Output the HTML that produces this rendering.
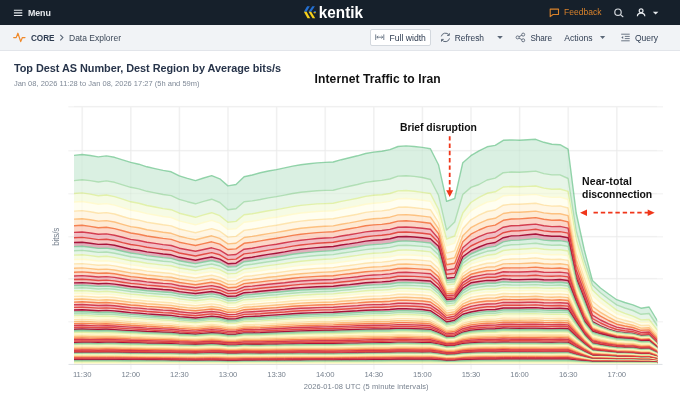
<!DOCTYPE html>
<html lang="en"><head><meta charset="utf-8"><title>Kentik Data Explorer</title>
<style>
*{box-sizing:border-box}
html,body{margin:0;padding:0}
body{width:680px;height:404px;overflow:hidden;background:#fff;font-family:"Liberation Sans",Arial,sans-serif;position:relative;color:#2a3648}
#nav{position:absolute;left:0;top:0;width:680px;height:24.5px;background:#16202b}
#bar{position:absolute;left:0;top:24.5px;width:680px;height:26px;background:#f1f3f6;border-bottom:1px solid #e2e5ea}
.t{position:absolute;white-space:nowrap;line-height:1}
svg{position:absolute;left:0;top:0}
#fw{position:absolute;left:370px;top:28.6px;width:60.6px;height:17.8px;background:#fff;border:1px solid #d3d8de;border-radius:2px}
</style></head><body>

<div id="nav"></div><div id="bar"></div><div id="fw"></div>
<svg width="680" height="404" viewBox="0 0 680 404" font-family="'Liberation Sans',Arial,sans-serif">
<text x="27.9" y="15.8" textLength="22.9" font-size="8.9" fill="#e6e9ed" font-weight="bold">Menu</text>
<text transform="translate(318.8,17.9) scale(0.905,1)" font-size="16.9" font-weight="bold" fill="#fff">kentik</text>
<text x="564" y="15.4" textLength="37.4" font-size="8.5" fill="#d9822b">Feedback</text>
<text x="31" y="40.6" textLength="23.5" font-size="8.2" fill="#2d3b50" font-weight="bold">CORE</text>
<text x="69" y="40.7" textLength="52.0" font-size="8.5" fill="#3c4858">Data Explorer</text>
<text x="389.4" y="40.9" textLength="36.5" font-size="8.6" fill="#2d3b50">Full width</text>
<text x="454.8" y="40.9" textLength="29.2" font-size="8.4" fill="#2d3b50">Refresh</text>
<text x="530.4" y="40.9" textLength="21.7" font-size="8.2" fill="#2d3b50">Share</text>
<text x="564.3" y="40.9" textLength="28.3" font-size="8.6" fill="#2d3b50">Actions</text>
<text x="635" y="40.9" textLength="23.0" font-size="8.5" fill="#2d3b50">Query</text>
<text x="13.9" y="71.8" textLength="267.1" font-size="10.9" fill="#27344a" font-weight="bold">Top Dest AS Number, Dest Region by Average bits/s</text>
<text x="13.9" y="85.8" textLength="185.6" font-size="7.5" fill="#7f8997">Jan 08, 2026 11:28 to Jan 08, 2026 17:27 (5h and 59m)</text>
<g stroke="#e6e9ed" stroke-width="1.1" fill="none"><path d="M13.9 10.2h8.4M13.9 12.85h8.4M13.9 15.5h8.4"/></g>
<g><path d="M303.9 11.8L307.1 6.2h2.7L306.6 11.8z" fill="#2470d2"/><path d="M308.6 11.8L312.3 6.2h2.6L311.2 11.8z" fill="#2470d2"/><path d="M303.9 11.8h2.7L310.2 18.2h-2.7z" fill="#f7d01a"/><path d="M308.6 11.8h2.6L315.2 18.2h-2.6z" fill="#f7d01a"/><path d="M313.2 12.3l1.3-1.2h1.3v1.2z" fill="#2470d2"/><path d="M313.2 12.3h2.6v.7l-1.2.6z" fill="#f7d01a"/></g>
<path d="M550.2 9.1h8.3v5.4h-5.5l-2.8 2.1z" fill="none" stroke="#d9822b" stroke-width="1.1" stroke-linejoin="round"/>
<g fill="none" stroke="#d5d9de" stroke-width="1.2"><circle cx="618" cy="12.2" r="3.2"/><path d="M620.4 14.6l2.5 2.1" stroke-linecap="round"/></g>
<g fill="none" stroke="#e6e9ed" stroke-width="1.2"><circle cx="641.1" cy="10.7" r="1.9"/><path d="M637.4 16.3c0-2.2 1.6-3.1 3.7-3.1s3.7 .9 3.7 3.1"/></g>
<path d="M652.8 11.7h5.6l-2.8 2.8z" fill="#e6e9ed"/>
<path d="M13.7 37.6h2.5l1.7-4.4 2.8 8.4 1.7-4h2.6" fill="none" stroke="#f0892a" stroke-width="1.2" stroke-linejoin="round" stroke-linecap="round"/>
<path d="M60.3 34.9l2.6 2.7-2.6 2.7" fill="none" stroke="#5c6878" stroke-width="1.1"/>
<g fill="none" stroke="#6a7686" stroke-width="0.9"><path d="M375.7 34.4v5.6M383.8 34.4v5.6M376.8 37.2h6"/><path d="M378.2 35.9l-1.4 1.3 1.4 1.3M381.4 35.9l1.4 1.3-1.4 1.3"/></g>
<g fill="none" stroke="#5c6878" stroke-width="1"><path d="M441.3 36.4a4.2 4.2 0 0 1 7.6-1.4"/><path d="M449.5 38.4a4.2 4.2 0 0 1-7.6 1.4"/><path d="M449.3 33.2v2.2h-2.2M441.5 41.6v-2.2h2.2"/></g>
<path d="M497.2 36h5.6l-2.8 3z" fill="#5c6878"/>
<g fill="none" stroke="#5c6878" stroke-width="0.9"><circle cx="523.2" cy="34.6" r="1.5"/><circle cx="517.6" cy="37.4" r="1.5"/><circle cx="523.2" cy="40.3" r="1.5"/><path d="M519 36.7l2.9-1.5M519 38.1l2.9 1.5"/></g>
<path d="M600 36h5.2l-2.6 3z" fill="#5c6878"/>
<g fill="none" stroke="#5c6878" stroke-width="0.9"><path d="M621.2 34.2h8.5M624.8 36.4h4.9M624.8 38.6h4.9M621.2 40.8h8.5"/></g><path d="M623.2 36.1v2.8l-1.9-1.4z" fill="#5c6878"/>
<g stroke="#f5f5f5" stroke-width="1.6">
<path d="M82.3 106.5v263"/>
<path d="M130.9 106.5v263"/>
<path d="M179.5 106.5v263"/>
<path d="M228.1 106.5v263"/>
<path d="M276.7 106.5v263"/>
<path d="M325.3 106.5v263"/>
<path d="M373.9 106.5v263"/>
<path d="M422.5 106.5v263"/>
<path d="M471.1 106.5v263"/>
<path d="M519.7 106.5v263"/>
<path d="M568.3 106.5v263"/>
<path d="M616.9 106.5v263"/>
<path d="M68.3 106.8H663"/>
<path d="M68.3 150.8H663"/>
<path d="M68.3 193.8H663"/>
<path d="M68.3 236.8H663"/>
<path d="M68.3 278.8H663"/>
<path d="M68.3 321.8H663"/>
</g>
<defs><clipPath id="cp"><rect x="74" y="100" width="583.3" height="264.3"/></clipPath></defs>
<g clip-path="url(#cp)"><g stroke-width="1.4" stroke-linejoin="round">
<polygon points="70,155.4 74,155.4 82.1,154.5 90.2,155.5 98.3,156.9 106.4,155.9 114.5,157.3 122.6,159.9 130.7,162.4 138.8,164.2 146.9,166.8 155,168.6 163.1,170.4 171.2,171.8 179.3,175.8 187.4,178.3 195.5,180.6 203.6,178 211.7,175.6 219.8,178.8 227.9,185.9 236,184.5 244.1,176.7 252.2,175 260.3,172.8 268.4,171 276.5,169.6 284.6,167.9 292.7,166.1 300.8,164.7 308.9,163.8 317,162.9 325.1,162.4 333.2,162 341.3,159.7 349.4,157.8 357.5,155.8 365.6,153.5 373.7,152.1 381.8,151.2 389.9,149.6 398,146.5 406.1,145.9 414.2,146.5 422.3,147.4 430.4,148.8 438.5,164.7 446.6,201.3 454.7,198.5 462.8,162.7 470.9,155.7 479,150.8 487.1,146.8 495.2,145.4 503.3,140.3 511.4,139.9 519.5,140.2 527.6,139.8 535.7,139.3 543.8,142.3 551.9,144.2 560,144.7 568.1,149.2 576.2,213 584.3,250 592.4,280.5 600.5,288 608.6,294 616.7,299.7 624.8,302.5 632.9,304.8 641,308.2 649.1,307 657.2,320.5 662,320.5 662,370 70,370" fill="#daf0e2" stroke="#7ccb98" stroke-opacity="0.82" stroke-width="1.40"/>
<polygon points="70,180.6 74,180.6 82.1,179.7 90.2,180.6 98.3,182 106.4,180.9 114.5,182.3 122.6,184.8 130.7,187.3 138.8,188.9 146.9,191.3 155,192.9 163.1,194.5 171.2,195.6 179.3,199.4 187.4,201.7 195.5,203.8 203.6,201.4 211.7,199.2 219.8,202.5 227.9,209.8 236,208.8 244.1,201.8 252.2,200.9 260.3,199.5 268.4,197.9 276.5,196.6 284.6,195.1 292.7,193.5 300.8,192.2 308.9,191.5 317,190.8 325.1,190.4 333.2,190.2 341.3,188.1 349.4,186.3 357.5,184.5 365.6,182.4 373.7,181.2 381.8,180.4 389.9,179 398,176.1 406.1,175.7 414.2,176.4 422.3,177.5 430.4,179.5 438.5,195.3 446.6,230.1 454.7,222 462.8,194.5 470.9,187.4 479,184.5 487.1,180 495.2,178.1 503.3,172.7 511.4,172 519.5,172.2 527.6,171.7 535.7,171.1 543.8,173.6 551.9,174.9 560,174.9 568.1,178.5 576.2,230.7 584.3,260 592.4,285 600.5,292.8 608.6,299 616.7,304.9 624.8,308 632.9,310.5 641,314.3 649.1,313.5 657.2,325.5 662,325.5 662,370 70,370" fill="#e7f5e8" stroke="#a0d8a4" stroke-opacity="0.74" stroke-width="1.40"/>
<polygon points="70,193.5 74,193.5 82.1,192.9 90.2,194.1 98.3,195.7 106.4,195 114.5,196.6 122.6,199.2 130.7,201.8 138.8,203.3 146.9,205.5 155,207 163.1,208.6 171.2,209.7 179.3,213.2 187.4,215.3 195.5,217.3 203.6,214.9 211.7,212.7 219.8,215.7 227.9,222.2 236,221.4 244.1,214.8 252.2,213.8 260.3,212.3 268.4,210.7 276.5,209.6 284.6,208.1 292.7,206.6 300.8,205.4 308.9,204.6 317,203.9 325.1,203.6 333.2,203.3 341.3,201.4 349.4,199.9 357.5,198.3 365.6,196.4 373.7,195.3 381.8,194.7 389.9,193.5 398,190.9 406.1,190.5 414.2,191.3 422.3,192.4 430.4,193.5 438.5,209.3 446.6,239 454.7,236 462.8,213 470.9,202.5 479,197.3 487.1,193.3 495.2,191.8 503.3,187 511.4,186.5 519.5,186.8 527.6,186.4 535.7,186 543.8,188.1 551.9,189.2 560,189 568.1,191.4 576.2,239.2 584.3,266.3 592.4,290 600.5,297.7 608.6,304 616.7,310.1 624.8,313.4 632.9,316.2 641,319.9 649.1,319.5 657.2,330 662,330 662,370 70,370" fill="#f6fbe4" stroke="#dff0a0" stroke-opacity="0.85" stroke-width="1.40"/>
<polygon points="70,202 74,202 82.1,201.5 90.2,202.7 98.3,204.2 106.4,203.6 114.5,205.1 122.6,207.6 130.7,210.1 138.8,211.5 146.9,213.6 155,215 163.1,216.5 171.2,217.5 179.3,220.9 187.4,222.9 195.5,224.8 203.6,222.5 211.7,220.4 219.8,223.2 227.9,229.4 236,228.7 244.1,222.3 252.2,221.3 260.3,219.9 268.4,218.3 276.5,217.2 284.6,215.7 292.7,214.2 300.8,213 308.9,212.3 317,211.5 325.1,211.1 333.2,210.8 341.3,209 349.4,207.5 357.5,206 365.6,204.2 373.7,203.2 381.8,202.6 389.9,201.4 398,198.9 406.1,198.5 414.2,199.3 422.3,200.3 430.4,201.4 438.5,215.7 446.6,245.8 454.7,243.2 462.8,220.6 470.9,210.9 479,206 487.1,202.1 495.2,200.6 503.3,195.8 511.4,195.1 519.5,195.3 527.6,194.9 535.7,194.4 543.8,196.4 551.9,197.4 560,197.2 568.1,199.5 576.2,246 584.3,272 592.4,295.5 600.5,302.6 608.6,308.4 616.7,313.8 624.8,316.7 632.9,319.2 641,322.6 649.1,322.2 657.2,332.3 662,332.3 662,370 70,370" fill="#fffef0" stroke="#fffacc" stroke-opacity="0.9" stroke-width="1.40"/>
<polygon points="70,211.1 74,211.1 82.1,210.6 90.2,211.7 98.3,213.2 106.4,212.6 114.5,214 122.6,216.5 130.7,218.8 138.8,220.1 146.9,222.2 155,223.5 163.1,224.8 171.2,225.9 179.3,229 187.4,230.9 195.5,232.7 203.6,230.6 211.7,228.6 219.8,231.2 227.9,237.1 236,236.4 244.1,230.4 252.2,229.3 260.3,227.9 268.4,226.4 276.5,225.2 284.6,223.8 292.7,222.3 300.8,221.1 308.9,220.3 317,219.6 325.1,219.1 333.2,218.8 341.3,217.1 349.4,215.7 357.5,214.2 365.6,212.4 373.7,211.4 381.8,210.9 389.9,209.7 398,207.3 406.1,207 414.2,207.7 422.3,208.6 430.4,209.7 438.5,222.5 446.6,253.1 454.7,250.8 462.8,228.7 470.9,219.8 479,215.1 487.1,211.5 495.2,210 503.3,205.2 511.4,204.2 519.5,204.3 527.6,203.8 535.7,203.2 543.8,205.1 551.9,206.1 560,205.9 568.1,208 576.2,253.1 584.3,278 592.4,301.3 600.5,307.8 608.6,313 616.7,317.8 624.8,320.3 632.9,322.4 641,325.5 649.1,325.2 657.2,334.8 662,334.8 662,370 70,370" fill="#fff6e4" stroke="#fee0a4" stroke-opacity="0.85" stroke-width="1.40"/>
<polygon points="70,219.1 74,219.1 82.1,218.7 90.2,219.8 98.3,221.1 106.4,220.6 114.5,222 122.6,224.3 130.7,226.6 138.8,227.8 146.9,229.7 155,231 163.1,232.3 171.2,233.3 179.3,236.2 187.4,238.1 195.5,239.7 203.6,237.7 211.7,235.8 219.8,238.3 227.9,243.9 236,243.2 244.1,237.5 252.2,236.4 260.3,235 268.4,233.6 276.5,232.4 284.6,231 292.7,229.5 300.8,228.3 308.9,227.5 317,226.7 325.1,226.3 333.2,225.9 341.3,224.2 349.4,222.9 357.5,221.4 365.6,219.8 373.7,218.8 381.8,218.3 389.9,217.2 398,214.9 406.1,214.6 414.2,215.2 422.3,216.1 430.4,217.1 438.5,228.6 446.6,259.5 454.7,257.6 462.8,235.8 470.9,227.7 479,223.3 487.1,219.8 495.2,218.3 503.3,213.5 511.4,212.3 519.5,212.3 527.6,211.7 535.7,211.1 543.8,212.9 551.9,213.8 560,213.7 568.1,215.6 576.2,259.5 584.3,283.4 592.4,306.5 600.5,312.4 608.6,317.1 616.7,321.3 624.8,323.4 632.9,325.2 641,328.1 649.1,327.7 657.2,337 662,337 662,370 70,370" fill="#feead4" stroke="#fdb870" stroke-opacity="0.85" stroke-width="1.40"/>
<polygon points="70,225.7 74,225.7 82.1,225.3 90.2,226.4 98.3,227.7 106.4,227.3 114.5,228.6 122.6,230.8 130.7,233 138.8,234.2 146.9,236 155,237.2 163.1,238.4 171.2,239.4 179.3,242.2 187.4,243.9 195.5,245.5 203.6,243.6 211.7,241.8 219.8,244.2 227.9,249.5 236,248.9 244.1,243.3 252.2,242.3 260.3,240.9 268.4,239.5 276.5,238.3 284.6,236.9 292.7,235.4 300.8,234.2 308.9,233.4 317,232.6 325.1,232.1 333.2,231.7 341.3,230.1 349.4,228.8 357.5,227.4 365.6,225.8 373.7,224.9 381.8,224.4 389.9,223.3 398,221.1 406.1,220.8 414.2,221.4 422.3,222.2 430.4,223.2 438.5,233.6 446.6,264.8 454.7,263.2 462.8,241.7 470.9,234.2 479,230 487.1,226.6 495.2,225.1 503.3,220.3 511.4,219 519.5,218.9 527.6,218.3 535.7,217.6 543.8,219.3 551.9,220.2 560,220 568.1,221.9 576.2,264.7 584.3,287.8 592.4,310.8 600.5,316.2 608.6,320.5 616.7,324.2 624.8,326 632.9,327.5 641,330.3 649.1,329.9 657.2,338.8 662,338.8 662,370 70,370" fill="#fcd6c8" stroke="#f47846" stroke-opacity="0.92" stroke-width="1.40"/>
<polygon points="70,232.4 74,232.4 82.1,232 90.2,233 98.3,234.3 106.4,233.9 114.5,235.2 122.6,237.3 130.7,239.4 138.8,240.5 146.9,242.3 155,243.4 163.1,244.6 171.2,245.5 179.3,248.2 187.4,249.8 195.5,251.3 203.6,249.5 211.7,247.8 219.8,250.1 227.9,255.1 236,254.5 244.1,249.2 252.2,248.2 260.3,246.8 268.4,245.4 276.5,244.2 284.6,242.8 292.7,241.4 300.8,240.2 308.9,239.4 317,238.5 325.1,238 333.2,237.6 341.3,236 349.4,234.8 357.5,233.4 365.6,231.9 373.7,231 381.8,230.5 389.9,229.4 398,227.3 406.1,227 414.2,227.5 422.3,228.3 430.4,229.3 438.5,238.6 446.6,270.1 454.7,268.8 462.8,247.7 470.9,240.7 479,236.7 487.1,233.4 495.2,232 503.3,227.2 511.4,225.7 519.5,225.5 527.6,224.8 535.7,224.1 543.8,225.7 551.9,226.6 560,226.4 568.1,228.1 576.2,270 584.3,292.2 592.4,315.1 600.5,320 608.6,323.9 616.7,327.1 624.8,328.6 632.9,329.8 641,332.4 649.1,332 657.2,340.6 662,340.6 662,370 70,370" fill="#f1bfc5" stroke="#d2364a" stroke-opacity="0.95" stroke-width="1.40"/>
<polygon points="70,237.7 74,237.7 82.1,237.4 90.2,238.4 98.3,239.6 106.4,239.2 114.5,240.5 122.6,242.6 130.7,244.5 138.8,245.6 146.9,247.3 155,248.4 163.1,249.5 171.2,250.4 179.3,253 187.4,254.5 195.5,256 203.6,254.2 211.7,252.6 219.8,254.8 227.9,259.6 236,259.1 244.1,253.9 252.2,252.9 260.3,251.5 268.4,250.1 276.5,248.9 284.6,247.6 292.7,246.1 300.8,245 308.9,244.1 317,243.3 325.1,242.7 333.2,242.3 341.3,240.8 349.4,239.5 357.5,238.2 365.6,236.7 373.7,235.9 381.8,235.3 389.9,234.3 398,232.3 406.1,232 414.2,232.5 422.3,233.2 430.4,234.3 438.5,242.6 446.6,274.3 454.7,273.3 462.8,252.4 470.9,246 479,242.1 487.1,238.9 495.2,237.5 503.3,232.7 511.4,231 519.5,230.8 527.6,230.1 535.7,229.3 543.8,230.9 551.9,231.7 560,231.6 568.1,233.1 576.2,274.2 584.3,295.8 592.4,318.5 600.5,323 608.6,326.6 616.7,329.5 624.8,330.7 632.9,331.7 641,334.1 649.1,333.7 657.2,342 662,342 662,370 70,370" fill="#f6c7c5" stroke="#e2443e" stroke-opacity="0.95" stroke-width="1.40"/>
<polygon points="70,242.5 74,242.5 82.1,242.2 90.2,243.2 98.3,244.4 106.4,244.1 114.5,245.3 122.6,247.3 130.7,249.2 138.8,250.3 146.9,251.9 155,252.9 163.1,254 171.2,254.8 179.3,257.3 187.4,258.8 195.5,260.2 203.6,258.5 211.7,257 219.8,259.1 227.9,263.7 236,263.2 244.1,258.2 252.2,257.2 260.3,255.8 268.4,254.4 276.5,253.2 284.6,251.9 292.7,250.4 300.8,249.3 308.9,248.4 317,247.6 325.1,247 333.2,246.5 341.3,245 349.4,243.9 357.5,242.6 365.6,241.1 373.7,240.3 381.8,239.8 389.9,238.8 398,236.8 406.1,236.5 414.2,237 422.3,237.7 430.4,238.7 438.5,246.2 446.6,278.2 454.7,277.4 462.8,256.7 470.9,250.7 479,247 487.1,243.9 495.2,242.5 503.3,237.7 511.4,235.9 519.5,235.6 527.6,234.8 535.7,234 543.8,235.5 551.9,236.3 560,236.2 568.1,237.7 576.2,278 584.3,299 592.4,321.6 600.5,325.8 608.6,329.1 616.7,331.6 624.8,332.6 632.9,333.4 641,335.6 649.1,335.3 657.2,343.4 662,343.4 662,370 70,370" fill="#e1afbc" stroke="#a8143a" stroke-opacity="1" stroke-width="1.40"/>
<polygon points="70,246.6 74,246.6 82.1,246.3 90.2,247.3 98.3,248.4 106.4,248.1 114.5,249.3 122.6,251.2 130.7,253 138.8,254.1 146.9,255.6 155,256.6 163.1,257.6 171.2,258.4 179.3,260.8 187.4,262.3 195.5,263.6 203.6,262 211.7,260.5 219.8,262.5 227.9,267 236,266.6 244.1,261.7 252.2,260.8 260.3,259.4 268.4,258.1 276.5,257 284.6,255.7 292.7,254.3 300.8,253.2 308.9,252.4 317,251.6 325.1,251.1 333.2,250.6 341.3,249.2 349.4,248 357.5,246.8 365.6,245.4 373.7,244.6 381.8,244.1 389.9,243.1 398,241.2 406.1,240.9 414.2,241.4 422.3,242.1 430.4,243 438.5,250.5 446.6,280.4 454.7,279.6 462.8,259.9 470.9,254 479,250.5 487.1,247.6 495.2,246.4 503.3,241.9 511.4,240.4 519.5,240.1 527.6,239.4 535.7,238.6 543.8,240.1 551.9,240.8 560,240.6 568.1,242.1 576.2,280.5 584.3,301.2 592.4,322.6 600.5,326.6 608.6,329.8 616.7,332.2 624.8,333.2 632.9,334 641,336.2 649.1,335.8 657.2,343.8 662,343.8 662,370 70,370" fill="#daf0e2" stroke="#7ccb98" stroke-opacity="0.82" stroke-width="1.40"/>
<polygon points="70,250.7 74,250.7 82.1,250.4 90.2,251.3 98.3,252.4 106.4,252 114.5,253.2 122.6,255 130.7,256.8 138.8,257.8 146.9,259.2 155,260.2 163.1,261.2 171.2,261.9 179.3,264.3 187.4,265.7 195.5,267 203.6,265.4 211.7,264 219.8,266 227.9,270.3 236,269.9 244.1,265.2 252.2,264.3 260.3,263 268.4,261.7 276.5,260.7 284.6,259.4 292.7,258.1 300.8,257.1 308.9,256.3 317,255.5 325.1,255 333.2,254.6 341.3,253.2 349.4,252.1 357.5,250.9 365.6,249.6 373.7,248.8 381.8,248.3 389.9,247.4 398,245.5 406.1,245.3 414.2,245.7 422.3,246.4 430.4,247.3 438.5,254.7 446.6,282.5 454.7,281.7 462.8,263.1 470.9,257.2 479,254 487.1,251.3 495.2,250.2 503.3,246 511.4,244.8 519.5,244.5 527.6,243.9 535.7,243.2 543.8,244.5 551.9,245.2 560,245 568.1,246.4 576.2,282.9 584.3,303.5 592.4,323.6 600.5,327.4 608.6,330.5 616.7,332.8 624.8,333.8 632.9,334.5 641,336.7 649.1,336.4 657.2,344.2 662,344.2 662,370 70,370" fill="#e7f5e8" stroke="#a0d8a4" stroke-opacity="0.74" stroke-width="1.40"/>
<polygon points="70,255.1 74,255.1 82.1,254.8 90.2,255.6 98.3,256.7 106.4,256.3 114.5,257.4 122.6,259.1 130.7,260.8 138.8,261.8 146.9,263.2 155,264.1 163.1,265.1 171.2,265.8 179.3,268 187.4,269.3 195.5,270.6 203.6,269.1 211.7,267.7 219.8,269.6 227.9,273.9 236,273.4 244.1,269 252.2,268.1 260.3,266.9 268.4,265.6 276.5,264.6 284.6,263.5 292.7,262.2 300.8,261.2 308.9,260.5 317,259.8 325.1,259.3 333.2,258.9 341.3,257.6 349.4,256.5 357.5,255.4 365.6,254.1 373.7,253.3 381.8,252.9 389.9,252 398,250.2 406.1,249.9 414.2,250.4 422.3,251 430.4,251.9 438.5,259.2 446.6,284.8 454.7,284 462.8,266.5 470.9,260.7 479,257.7 487.1,255.3 495.2,254.3 503.3,250.5 511.4,249.5 519.5,249.3 527.6,248.7 535.7,248.1 543.8,249.3 551.9,249.9 560,249.7 568.1,251 576.2,285.5 584.3,305.9 592.4,324.6 600.5,328.3 608.6,331.2 616.7,333.5 624.8,334.4 632.9,335.1 641,337.3 649.1,337 657.2,344.6 662,344.6 662,370 70,370" fill="#f6fbe4" stroke="#dff0a0" stroke-opacity="0.85" stroke-width="1.40"/>
<polygon points="70,259.6 74,259.6 82.1,259.2 90.2,260 98.3,261 106.4,260.7 114.5,261.7 122.6,263.3 130.7,264.9 138.8,265.8 146.9,267.2 155,268.1 163.1,269 171.2,269.7 179.3,271.8 187.4,273.1 195.5,274.3 203.6,272.8 211.7,271.6 219.8,273.4 227.9,277.5 236,277 244.1,272.8 252.2,271.9 260.3,270.8 268.4,269.6 276.5,268.7 284.6,267.6 292.7,266.4 300.8,265.4 308.9,264.8 317,264.1 325.1,263.7 333.2,263.3 341.3,262.1 349.4,261 357.5,260 365.6,258.7 373.7,258 381.8,257.5 389.9,256.7 398,255 406.1,254.7 414.2,255.2 422.3,255.8 430.4,256.6 438.5,263.8 446.6,287.2 454.7,286.4 462.8,269.9 470.9,264.2 479,261.6 487.1,259.3 495.2,258.5 503.3,255.1 511.4,254.3 519.5,254.2 527.6,253.6 535.7,253 543.8,254.2 551.9,254.7 560,254.5 568.1,255.8 576.2,288.1 584.3,308.3 592.4,325.7 600.5,329.2 608.6,331.9 616.7,334.2 624.8,335.1 632.9,335.8 641,337.9 649.1,337.6 657.2,345.1 662,345.1 662,370 70,370" fill="#fffef0" stroke="#fffacc" stroke-opacity="0.9" stroke-width="1.40"/>
<polygon points="70,263.9 74,263.9 82.1,263.6 90.2,264.4 98.3,265.3 106.4,264.9 114.5,265.9 122.6,267.5 130.7,269 138.8,269.8 146.9,271.1 155,272 163.1,272.8 171.2,273.5 179.3,275.5 187.4,276.7 195.5,277.9 203.6,276.5 211.7,275.3 219.8,277.1 227.9,281 236,280.6 244.1,276.5 252.2,275.7 260.3,274.6 268.4,273.5 276.5,272.7 284.6,271.6 292.7,270.5 300.8,269.6 308.9,269 317,268.4 325.1,268 333.2,267.6 341.3,266.4 349.4,265.5 357.5,264.4 365.6,263.2 373.7,262.5 381.8,262.1 389.9,261.3 398,259.7 406.1,259.4 414.2,259.8 422.3,260.4 430.4,261.1 438.5,268.4 446.6,289.5 454.7,288.7 462.8,273.3 470.9,267.7 479,265.3 487.1,263.3 495.2,262.7 503.3,259.6 511.4,259 519.5,258.9 527.6,258.5 535.7,257.9 543.8,259 551.9,259.5 560,259.2 568.1,260.4 576.2,290.7 584.3,310.8 592.4,326.7 600.5,330 608.6,332.7 616.7,334.8 624.8,335.7 632.9,336.4 641,338.5 649.1,338.2 657.2,345.5 662,345.5 662,370 70,370" fill="#fff6e4" stroke="#fee0a4" stroke-opacity="0.85" stroke-width="1.40"/>
<polygon points="70,268.2 74,268.2 82.1,267.9 90.2,268.6 98.3,269.5 106.4,269.1 114.5,270 122.6,271.5 130.7,272.9 138.8,273.7 146.9,275 155,275.8 163.1,276.6 171.2,277.2 179.3,279.1 187.4,280.3 195.5,281.4 203.6,280.1 211.7,278.9 219.8,280.7 227.9,284.4 236,284.1 244.1,280.2 252.2,279.4 260.3,278.4 268.4,277.3 276.5,276.5 284.6,275.5 292.7,274.5 300.8,273.7 308.9,273.1 317,272.5 325.1,272.1 333.2,271.8 341.3,270.7 349.4,269.7 357.5,268.8 365.6,267.6 373.7,267 381.8,266.6 389.9,265.8 398,264.2 406.1,264 414.2,264.4 422.3,264.9 430.4,265.6 438.5,272.8 446.6,291.8 454.7,291 462.8,276.6 470.9,271.1 479,268.9 487.1,267.1 495.2,266.7 503.3,263.9 511.4,263.6 519.5,263.6 527.6,263.2 535.7,262.7 543.8,263.7 551.9,264.1 560,263.7 568.1,264.9 576.2,293.2 584.3,313.1 592.4,327.8 600.5,330.9 608.6,333.4 616.7,335.5 624.8,336.3 632.9,337 641,339 649.1,338.8 657.2,346 662,346 662,370 70,370" fill="#feead4" stroke="#fdb870" stroke-opacity="0.85" stroke-width="1.40"/>
<polygon points="70,272.2 74,272.2 82.1,271.9 90.2,272.5 98.3,273.3 106.4,273 114.5,273.8 122.6,275.2 130.7,276.6 138.8,277.4 146.9,278.5 155,279.3 163.1,280.1 171.2,280.7 179.3,282.5 187.4,283.6 195.5,284.7 203.6,283.5 211.7,282.3 219.8,284 227.9,287.7 236,287.3 244.1,283.6 252.2,282.8 260.3,281.9 268.4,280.9 276.5,280.1 284.6,279.2 292.7,278.2 300.8,277.4 308.9,276.9 317,276.4 325.1,276 333.2,275.7 341.3,274.6 349.4,273.8 357.5,272.8 365.6,271.7 373.7,271.1 381.8,270.7 389.9,270 398,268.5 406.1,268.2 414.2,268.6 422.3,269.1 430.4,269.8 438.5,276.9 446.6,293.8 454.7,293 462.8,279.7 470.9,274.3 479,272.3 487.1,270.7 495.2,270.4 503.3,268 511.4,267.9 519.5,267.9 527.6,267.6 535.7,267.1 543.8,268 551.9,268.4 560,268 568.1,269.1 576.2,295.6 584.3,315.3 592.4,328.7 600.5,331.7 608.6,334 616.7,336.1 624.8,336.9 632.9,337.5 641,339.6 649.1,339.3 657.2,346.4 662,346.4 662,370 70,370" fill="#fcd6c8" stroke="#f47846" stroke-opacity="0.92" stroke-width="1.40"/>
<polygon points="70,276 74,276 82.1,275.6 90.2,276.2 98.3,277 106.4,276.6 114.5,277.4 122.6,278.8 130.7,280.1 138.8,280.8 146.9,281.9 155,282.7 163.1,283.4 171.2,283.9 179.3,285.7 187.4,286.8 195.5,287.8 203.6,286.6 211.7,285.6 219.8,287.2 227.9,290.7 236,290.4 244.1,286.8 252.2,286.1 260.3,285.2 268.4,284.3 276.5,283.5 284.6,282.7 292.7,281.7 300.8,281 308.9,280.5 317,280 325.1,279.7 333.2,279.5 341.3,278.4 349.4,277.6 357.5,276.7 365.6,275.6 373.7,275 381.8,274.6 389.9,273.9 398,272.5 406.1,272.3 414.2,272.6 422.3,273.1 430.4,273.7 438.5,280.8 446.6,295.8 454.7,295 462.8,282.6 470.9,277.3 479,275.6 487.1,274.1 495.2,274 503.3,271.8 511.4,272 519.5,272 527.6,271.7 535.7,271.3 543.8,272.2 551.9,272.4 560,272.1 568.1,273.1 576.2,297.8 584.3,317.4 592.4,329.6 600.5,332.4 608.6,334.7 616.7,336.7 624.8,337.4 632.9,338 641,340.1 649.1,339.8 657.2,346.7 662,346.7 662,370 70,370" fill="#f1bfc5" stroke="#d2364a" stroke-opacity="0.95" stroke-width="1.40"/>
<polygon points="70,279.5 74,279.5 82.1,279.2 90.2,279.8 98.3,280.5 106.4,280.1 114.5,280.9 122.6,282.2 130.7,283.4 138.8,284.1 146.9,285.1 155,285.8 163.1,286.5 171.2,287.1 179.3,288.8 187.4,289.8 195.5,290.7 203.6,289.6 211.7,288.6 219.8,290.2 227.9,293.6 236,293.3 244.1,289.8 252.2,289.2 260.3,288.3 268.4,287.5 276.5,286.8 284.6,286 292.7,285.1 300.8,284.4 308.9,283.9 317,283.5 325.1,283.2 333.2,283 341.3,282 349.4,281.2 357.5,280.3 365.6,279.3 373.7,278.7 381.8,278.4 389.9,277.7 398,276.3 406.1,276.1 414.2,276.4 422.3,276.9 430.4,277.5 438.5,284.5 446.6,297.7 454.7,296.9 462.8,285.4 470.9,280.1 479,278.6 487.1,277.3 495.2,277.3 503.3,275.5 511.4,275.9 519.5,275.9 527.6,275.7 535.7,275.3 543.8,276.1 551.9,276.3 560,275.9 568.1,276.9 576.2,299.9 584.3,319.3 592.4,330.5 600.5,333.1 608.6,335.3 616.7,337.2 624.8,338 632.9,338.5 641,340.5 649.1,340.3 657.2,347.1 662,347.1 662,370 70,370" fill="#f6c7c5" stroke="#e2443e" stroke-opacity="0.95" stroke-width="1.40"/>
<polygon points="70,282.9 74,282.9 82.1,282.6 90.2,283.1 98.3,283.8 106.4,283.4 114.5,284.1 122.6,285.3 130.7,286.5 138.8,287.2 146.9,288.2 155,288.8 163.1,289.5 171.2,290 179.3,291.6 187.4,292.6 195.5,293.5 203.6,292.5 211.7,291.5 219.8,293 227.9,296.3 236,296 244.1,292.7 252.2,292.1 260.3,291.3 268.4,290.5 276.5,289.8 284.6,289.1 292.7,288.2 300.8,287.6 308.9,287.2 317,286.7 325.1,286.5 333.2,286.3 341.3,285.3 349.4,284.6 357.5,283.7 365.6,282.8 373.7,282.2 381.8,281.9 389.9,281.2 398,279.9 406.1,279.7 414.2,280 422.3,280.5 430.4,281 438.5,288 446.6,299.5 454.7,298.7 462.8,288 470.9,282.8 479,281.5 487.1,280.4 495.2,280.5 503.3,278.9 511.4,279.5 519.5,279.6 527.6,279.4 535.7,279.1 543.8,279.8 551.9,279.9 560,279.5 568.1,280.5 576.2,301.9 584.3,321.2 592.4,331.3 600.5,333.8 608.6,335.8 616.7,337.7 624.8,338.4 632.9,339 641,341 649.1,340.8 657.2,347.4 662,347.4 662,370 70,370" fill="#e1afbc" stroke="#a8143a" stroke-opacity="1" stroke-width="1.40"/>
<polygon points="70,285.6 74,285.6 82.1,285.2 90.2,285.7 98.3,286.4 106.4,286.1 114.5,286.7 122.6,287.9 130.7,289.1 138.8,289.7 146.9,290.7 155,291.4 163.1,292 171.2,292.5 179.3,294.1 187.4,295 195.5,295.9 203.6,294.9 211.7,293.9 219.8,295.4 227.9,298.5 236,298.2 244.1,295.1 252.2,294.5 260.3,293.7 268.4,292.9 276.5,292.3 284.6,291.5 292.7,290.7 300.8,290.1 308.9,289.7 317,289.3 325.1,289 333.2,288.8 341.3,287.9 349.4,287.2 357.5,286.4 365.6,285.4 373.7,284.9 381.8,284.6 389.9,284 398,282.7 406.1,282.5 414.2,282.9 422.3,283.3 430.4,283.9 438.5,290.7 446.6,301.7 454.7,300.8 462.8,290.6 470.9,285.7 479,284.3 487.1,283.3 495.2,283.3 503.3,281.8 511.4,282.3 519.5,282.4 527.6,282.2 535.7,281.9 543.8,282.5 551.9,282.7 560,282.3 568.1,283.3 576.2,303.9 584.3,322.5 592.4,332.4 600.5,334.9 608.6,336.9 616.7,338.7 624.8,339.3 632.9,339.8 641,341.7 649.1,341.6 657.2,348 662,348 662,370 70,370" fill="#daf0e2" stroke="#7ccb98" stroke-opacity="0.82" stroke-width="1.40"/>
<polygon points="70,288.1 74,288.1 82.1,287.8 90.2,288.3 98.3,289 106.4,288.6 114.5,289.3 122.6,290.4 130.7,291.5 138.8,292.2 146.9,293.1 155,293.8 163.1,294.4 171.2,294.9 179.3,296.4 187.4,297.4 195.5,298.2 203.6,297.2 211.7,296.3 219.8,297.7 227.9,300.7 236,300.4 244.1,297.3 252.2,296.8 260.3,296.1 268.4,295.3 276.5,294.7 284.6,293.9 292.7,293.2 300.8,292.5 308.9,292.1 317,291.7 325.1,291.5 333.2,291.3 341.3,290.4 349.4,289.7 357.5,288.9 365.6,288.1 373.7,287.6 381.8,287.3 389.9,286.7 398,285.5 406.1,285.3 414.2,285.6 422.3,286.1 430.4,286.7 438.5,293.4 446.6,303.8 454.7,302.9 462.8,293.1 470.9,288.4 479,287.1 487.1,286 495.2,286.1 503.3,284.6 511.4,285 519.5,285.1 527.6,284.9 535.7,284.6 543.8,285.2 551.9,285.4 560,285 568.1,286 576.2,305.8 584.3,323.7 592.4,333.6 600.5,335.9 608.6,337.8 616.7,339.6 624.8,340.2 632.9,340.7 641,342.5 649.1,342.3 657.2,348.5 662,348.5 662,370 70,370" fill="#e7f5e8" stroke="#a0d8a4" stroke-opacity="0.74" stroke-width="1.40"/>
<polygon points="70,290.8 74,290.8 82.1,290.6 90.2,291 98.3,291.7 106.4,291.3 114.5,292 122.6,293.1 130.7,294.1 138.8,294.8 146.9,295.7 155,296.3 163.1,297 171.2,297.4 179.3,298.9 187.4,299.9 195.5,300.7 203.6,299.7 211.7,298.8 219.8,300.1 227.9,303 236,302.7 244.1,299.7 252.2,299.2 260.3,298.5 268.4,297.8 276.5,297.2 284.6,296.5 292.7,295.7 300.8,295.1 308.9,294.7 317,294.3 325.1,294.1 333.2,293.9 341.3,293 349.4,292.4 357.5,291.6 365.6,290.8 373.7,290.3 381.8,290.1 389.9,289.5 398,288.3 406.1,288.2 414.2,288.5 422.3,289 430.4,289.7 438.5,296.2 446.6,306.1 454.7,305 462.8,295.7 470.9,291.4 479,290 487.1,288.9 495.2,289 503.3,287.5 511.4,287.9 519.5,287.9 527.6,287.7 535.7,287.5 543.8,288.1 551.9,288.3 560,287.9 568.1,288.8 576.2,307.8 584.3,325 592.4,334.7 600.5,337 608.6,338.9 616.7,340.5 624.8,341.1 632.9,341.5 641,343.3 649.1,343.1 657.2,349 662,349 662,370 70,370" fill="#f6fbe4" stroke="#dff0a0" stroke-opacity="0.85" stroke-width="1.40"/>
<polygon points="70,293.6 74,293.6 82.1,293.3 90.2,293.8 98.3,294.4 106.4,294.1 114.5,294.7 122.6,295.8 130.7,296.8 138.8,297.4 146.9,298.3 155,299 163.1,299.6 171.2,300 179.3,301.5 187.4,302.4 195.5,303.2 203.6,302.2 211.7,301.3 219.8,302.5 227.9,305.3 236,305 244.1,302.2 252.2,301.7 260.3,301.1 268.4,300.3 276.5,299.7 284.6,299.1 292.7,298.3 300.8,297.7 308.9,297.3 317,297 325.1,296.7 333.2,296.5 341.3,295.7 349.4,295.1 357.5,294.4 365.6,293.6 373.7,293.2 381.8,292.9 389.9,292.4 398,291.3 406.1,291.2 414.2,291.5 422.3,292 430.4,292.7 438.5,299.1 446.6,308.4 454.7,307.2 462.8,298.3 470.9,294.3 479,293 487.1,291.9 495.2,292 503.3,290.4 511.4,290.8 519.5,290.8 527.6,290.6 535.7,290.4 543.8,291 551.9,291.2 560,290.8 568.1,291.7 576.2,309.8 584.3,326.3 592.4,335.9 600.5,338.2 608.6,340 616.7,341.5 624.8,342 632.9,342.4 641,344.1 649.1,343.9 657.2,349.6 662,349.6 662,370 70,370" fill="#fffef0" stroke="#fffacc" stroke-opacity="0.9" stroke-width="1.40"/>
<polygon points="70,296.4 74,296.4 82.1,296.2 90.2,296.6 98.3,297.2 106.4,296.9 114.5,297.5 122.6,298.6 130.7,299.6 138.8,300.2 146.9,301 155,301.6 163.1,302.2 171.2,302.7 179.3,304.1 187.4,305 195.5,305.8 203.6,304.8 211.7,303.9 219.8,305 227.9,307.6 236,307.4 244.1,304.7 252.2,304.3 260.3,303.6 268.4,302.9 276.5,302.4 284.6,301.7 292.7,301 300.8,300.4 308.9,300.1 317,299.7 325.1,299.4 333.2,299.2 341.3,298.5 349.4,297.9 357.5,297.2 365.6,296.5 373.7,296.1 381.8,295.9 389.9,295.4 398,294.3 406.1,294.2 414.2,294.5 422.3,295 430.4,295.9 438.5,302 446.6,310.8 454.7,309.5 462.8,301.1 470.9,297.4 479,296 487.1,295 495.2,295 503.3,293.5 511.4,293.8 519.5,293.8 527.6,293.6 535.7,293.4 543.8,294 551.9,294.2 560,293.9 568.1,294.6 576.2,312 584.3,327.7 592.4,337.2 600.5,339.3 608.6,341.1 616.7,342.5 624.8,343 632.9,343.3 641,345 649.1,344.8 657.2,350.1 662,350.1 662,370 70,370" fill="#fff6e4" stroke="#fee0a4" stroke-opacity="0.85" stroke-width="1.40"/>
<polygon points="70,299.3 74,299.3 82.1,299 90.2,299.5 98.3,300.1 106.4,299.8 114.5,300.3 122.6,301.3 130.7,302.3 138.8,302.9 146.9,303.7 155,304.3 163.1,304.9 171.2,305.4 179.3,306.7 187.4,307.6 195.5,308.3 203.6,307.4 211.7,306.5 219.8,307.6 227.9,310 236,309.8 244.1,307.2 252.2,306.8 260.3,306.2 268.4,305.6 276.5,305 284.6,304.4 292.7,303.7 300.8,303.1 308.9,302.8 317,302.4 325.1,302.2 333.2,302 341.3,301.3 349.4,300.7 357.5,300.1 365.6,299.4 373.7,299 381.8,298.8 389.9,298.3 398,297.4 406.1,297.3 414.2,297.6 422.3,298 430.4,299 438.5,304.9 446.6,313.1 454.7,311.8 462.8,303.9 470.9,300.5 479,299 487.1,298.1 495.2,298 503.3,296.5 511.4,296.7 519.5,296.8 527.6,296.6 535.7,296.3 543.8,296.9 551.9,297.2 560,296.9 568.1,297.6 576.2,314.1 584.3,329.1 592.4,338.4 600.5,340.5 608.6,342.1 616.7,343.5 624.8,343.9 632.9,344.3 641,345.8 649.1,345.6 657.2,350.7 662,350.7 662,370 70,370" fill="#feead4" stroke="#fdb870" stroke-opacity="0.85" stroke-width="1.40"/>
<polygon points="70,302.1 74,302.1 82.1,301.8 90.2,302.2 98.3,302.8 106.4,302.5 114.5,303.1 122.6,304 130.7,305 138.8,305.5 146.9,306.4 155,306.9 163.1,307.5 171.2,308 179.3,309.3 187.4,310.1 195.5,310.8 203.6,309.9 211.7,309 219.8,310 227.9,312.3 236,312.1 244.1,309.7 252.2,309.3 260.3,308.8 268.4,308.1 276.5,307.6 284.6,306.9 292.7,306.3 300.8,305.7 308.9,305.4 317,305 325.1,304.8 333.2,304.6 341.3,303.9 349.4,303.4 357.5,302.9 365.6,302.2 373.7,301.8 381.8,301.7 389.9,301.2 398,300.3 406.1,300.2 414.2,300.6 422.3,301 430.4,302 438.5,307.8 446.6,315.4 454.7,314 462.8,306.5 470.9,303.4 479,302 487.1,301 495.2,301 503.3,299.5 511.4,299.6 519.5,299.7 527.6,299.5 535.7,299.2 543.8,299.8 551.9,300.1 560,299.8 568.1,300.5 576.2,316.1 584.3,330.4 592.4,339.6 600.5,341.6 608.6,343.2 616.7,344.5 624.8,344.9 632.9,345.1 641,346.6 649.1,346.4 657.2,351.2 662,351.2 662,370 70,370" fill="#fcd6c8" stroke="#f47846" stroke-opacity="0.92" stroke-width="1.40"/>
<polygon points="70,304.8 74,304.8 82.1,304.5 90.2,305 98.3,305.5 106.4,305.2 114.5,305.8 122.6,306.7 130.7,307.6 138.8,308.1 146.9,308.9 155,309.5 163.1,310.1 171.2,310.5 179.3,311.8 187.4,312.6 195.5,313.3 203.6,312.3 211.7,311.5 219.8,312.4 227.9,314.6 236,314.4 244.1,312.1 252.2,311.7 260.3,311.2 268.4,310.6 276.5,310.1 284.6,309.5 292.7,308.8 300.8,308.3 308.9,308 317,307.6 325.1,307.4 333.2,307.2 341.3,306.6 349.4,306.1 357.5,305.6 365.6,304.9 373.7,304.6 381.8,304.5 389.9,304.1 398,303.2 406.1,303.1 414.2,303.5 422.3,303.9 430.4,305 438.5,310.6 446.6,317.7 454.7,316.1 462.8,309.1 470.9,306.4 479,304.9 487.1,304 495.2,303.9 503.3,302.4 511.4,302.5 519.5,302.5 527.6,302.3 535.7,302.1 543.8,302.7 551.9,302.9 560,302.7 568.1,303.3 576.2,318.1 584.3,331.7 592.4,340.8 600.5,342.7 608.6,344.3 616.7,345.4 624.8,345.8 632.9,346 641,347.4 649.1,347.2 657.2,351.8 662,351.8 662,370 70,370" fill="#f1bfc5" stroke="#d2364a" stroke-opacity="0.95" stroke-width="1.40"/>
<polygon points="70,307.4 74,307.4 82.1,307.2 90.2,307.6 98.3,308.1 106.4,307.9 114.5,308.4 122.6,309.3 130.7,310.1 138.8,310.7 146.9,311.5 155,312 163.1,312.6 171.2,313 179.3,314.2 187.4,315 195.5,315.7 203.6,314.7 211.7,313.9 219.8,314.8 227.9,316.8 236,316.6 244.1,314.4 252.2,314.1 260.3,313.7 268.4,313 276.5,312.5 284.6,312 292.7,311.3 300.8,310.8 308.9,310.5 317,310.1 325.1,309.9 333.2,309.7 341.3,309.2 349.4,308.7 357.5,308.2 365.6,307.6 373.7,307.3 381.8,307.2 389.9,306.8 398,306 406.1,306 414.2,306.3 422.3,306.7 430.4,307.9 438.5,313.3 446.6,319.9 454.7,318.2 462.8,311.7 470.9,309.2 479,307.7 487.1,306.8 495.2,306.7 503.3,305.3 511.4,305.3 519.5,305.3 527.6,305.1 535.7,304.9 543.8,305.5 551.9,305.7 560,305.5 568.1,306.1 576.2,320.1 584.3,333 592.4,341.9 600.5,343.8 608.6,345.3 616.7,346.4 624.8,346.7 632.9,346.9 641,348.2 649.1,348 657.2,352.3 662,352.3 662,370 70,370" fill="#f6c7c5" stroke="#e2443e" stroke-opacity="0.95" stroke-width="1.40"/>
<polygon points="70,310 74,310 82.1,309.8 90.2,310.2 98.3,310.7 106.4,310.4 114.5,310.9 122.6,311.8 130.7,312.6 138.8,313.1 146.9,313.9 155,314.5 163.1,315 171.2,315.4 179.3,316.6 187.4,317.3 195.5,318 203.6,317.1 211.7,316.2 219.8,317 227.9,319 236,318.8 244.1,316.7 252.2,316.4 260.3,316 268.4,315.4 276.5,314.9 284.6,314.4 292.7,313.8 300.8,313.3 308.9,312.9 317,312.6 325.1,312.4 333.2,312.2 341.3,311.7 349.4,311.2 357.5,310.8 365.6,310.2 373.7,310 381.8,309.9 389.9,309.5 398,308.8 406.1,308.7 414.2,309.1 422.3,309.5 430.4,310.7 438.5,316 446.6,322 454.7,320.3 462.8,314.2 470.9,312 479,310.5 487.1,309.6 495.2,309.5 503.3,308 511.4,308 519.5,308 527.6,307.8 535.7,307.6 543.8,308.2 551.9,308.4 560,308.2 568.1,308.8 576.2,322 584.3,334.2 592.4,343.1 600.5,344.8 608.6,346.3 616.7,347.3 624.8,347.5 632.9,347.7 641,348.9 649.1,348.8 657.2,352.8 662,352.8 662,370 70,370" fill="#e1afbc" stroke="#a8143a" stroke-opacity="1" stroke-width="1.40"/>
<polygon points="70,311.9 74,311.9 82.1,311.7 90.2,312 98.3,312.5 106.4,312.3 114.5,312.8 122.6,313.6 130.7,314.4 138.8,314.9 146.9,315.6 155,316.2 163.1,316.7 171.2,317.1 179.3,318.2 187.4,318.9 195.5,319.6 203.6,318.7 211.7,317.9 219.8,318.6 227.9,320.5 236,320.3 244.1,318.3 252.2,318 260.3,317.6 268.4,317.1 276.5,316.6 284.6,316 292.7,315.5 300.8,315 308.9,314.7 317,314.4 325.1,314.1 333.2,314 341.3,313.4 349.4,313 357.5,312.6 365.6,312.1 373.7,311.8 381.8,311.7 389.9,311.4 398,310.7 406.1,310.7 414.2,311 422.3,311.4 430.4,312.5 438.5,317.6 446.6,323.5 454.7,321.9 462.8,316 470.9,313.8 479,312.4 487.1,311.5 495.2,311.4 503.3,310 511.4,310 519.5,310 527.6,309.8 535.7,309.6 543.8,310.1 551.9,310.4 560,310.2 568.1,310.8 576.2,323.4 584.3,335.2 592.4,343.8 600.5,345.5 608.6,346.8 616.7,347.8 624.8,348.1 632.9,348.3 641,349.5 649.1,349.3 657.2,353.2 662,353.2 662,370 70,370" fill="#daf0e2" stroke="#7ccb98" stroke-opacity="0.82" stroke-width="1.40"/>
<polygon points="70,313.7 74,313.7 82.1,313.5 90.2,313.9 98.3,314.3 106.4,314.1 114.5,314.5 122.6,315.3 130.7,316.1 138.8,316.6 146.9,317.3 155,317.8 163.1,318.3 171.2,318.7 179.3,319.8 187.4,320.5 195.5,321.1 203.6,320.3 211.7,319.4 219.8,320.1 227.9,322 236,321.8 244.1,319.8 252.2,319.6 260.3,319.2 268.4,318.7 276.5,318.2 284.6,317.7 292.7,317.1 300.8,316.7 308.9,316.4 317,316 325.1,315.8 333.2,315.7 341.3,315.2 349.4,314.8 357.5,314.4 365.6,313.9 373.7,313.6 381.8,313.5 389.9,313.3 398,312.5 406.1,312.5 414.2,312.9 422.3,313.3 430.4,314.3 438.5,319.2 446.6,324.9 454.7,323.4 462.8,317.7 470.9,315.5 479,314.2 487.1,313.3 495.2,313.2 503.3,311.9 511.4,311.9 519.5,311.9 527.6,311.8 535.7,311.6 543.8,312.1 551.9,312.3 560,312.1 568.1,312.6 576.2,324.8 584.3,336.1 592.4,344.4 600.5,346 608.6,347.3 616.7,348.3 624.8,348.6 632.9,348.8 641,350 649.1,349.8 657.2,353.6 662,353.6 662,370 70,370" fill="#e7f5e8" stroke="#a0d8a4" stroke-opacity="0.74" stroke-width="1.40"/>
<polygon points="70,315.6 74,315.6 82.1,315.4 90.2,315.8 98.3,316.2 106.4,316 114.5,316.4 122.6,317.2 130.7,317.9 138.8,318.4 146.9,319.1 155,319.5 163.1,320 171.2,320.4 179.3,321.5 187.4,322.1 195.5,322.7 203.6,321.9 211.7,321.1 219.8,321.8 227.9,323.5 236,323.3 244.1,321.5 252.2,321.2 260.3,320.9 268.4,320.4 276.5,319.9 284.6,319.4 292.7,318.9 300.8,318.4 308.9,318.1 317,317.8 325.1,317.6 333.2,317.5 341.3,317 349.4,316.6 357.5,316.2 365.6,315.8 373.7,315.5 381.8,315.5 389.9,315.2 398,314.5 406.1,314.5 414.2,314.8 422.3,315.2 430.4,316.2 438.5,320.9 446.6,326.4 454.7,325 462.8,319.5 470.9,317.3 479,316.1 487.1,315.3 495.2,315.2 503.3,313.9 511.4,313.9 519.5,313.9 527.6,313.8 535.7,313.6 543.8,314.1 551.9,314.3 560,314.1 568.1,314.6 576.2,326.3 584.3,337 592.4,345.1 600.5,346.7 608.6,347.9 616.7,348.9 624.8,349.2 632.9,349.4 641,350.5 649.1,350.4 657.2,354 662,354 662,370 70,370" fill="#f6fbe4" stroke="#dff0a0" stroke-opacity="0.85" stroke-width="1.40"/>
<polygon points="70,317.6 74,317.6 82.1,317.4 90.2,317.7 98.3,318.1 106.4,317.9 114.5,318.3 122.6,319 130.7,319.7 138.8,320.2 146.9,320.9 155,321.3 163.1,321.8 171.2,322.1 179.3,323.2 187.4,323.8 195.5,324.4 203.6,323.6 211.7,322.8 219.8,323.4 227.9,325.1 236,324.9 244.1,323.1 252.2,322.9 260.3,322.6 268.4,322.1 276.5,321.7 284.6,321.2 292.7,320.7 300.8,320.2 308.9,319.9 317,319.7 325.1,319.5 333.2,319.3 341.3,318.9 349.4,318.5 357.5,318.1 365.6,317.7 373.7,317.5 381.8,317.4 389.9,317.1 398,316.5 406.1,316.5 414.2,316.8 422.3,317.2 430.4,318.1 438.5,322.6 446.6,327.9 454.7,326.6 462.8,321.3 470.9,319.2 479,318 487.1,317.2 495.2,317.1 503.3,315.9 511.4,316 519.5,316 527.6,315.9 535.7,315.7 543.8,316.2 551.9,316.4 560,316.2 568.1,316.7 576.2,327.8 584.3,338 592.4,345.9 600.5,347.3 608.6,348.5 616.7,349.4 624.8,349.7 632.9,350 641,351.1 649.1,350.9 657.2,354.4 662,354.4 662,370 70,370" fill="#fffef0" stroke="#fffacc" stroke-opacity="0.9" stroke-width="1.40"/>
<polygon points="70,319.6 74,319.6 82.1,319.4 90.2,319.7 98.3,320.1 106.4,319.9 114.5,320.3 122.6,320.9 130.7,321.6 138.8,322.1 146.9,322.7 155,323.1 163.1,323.6 171.2,323.9 179.3,324.9 187.4,325.5 195.5,326.1 203.6,325.3 211.7,324.5 219.8,325.1 227.9,326.7 236,326.5 244.1,324.8 252.2,324.6 260.3,324.4 268.4,323.9 276.5,323.5 284.6,323 292.7,322.5 300.8,322.1 308.9,321.8 317,321.5 325.1,321.4 333.2,321.2 341.3,320.8 349.4,320.4 357.5,320.1 365.6,319.7 373.7,319.5 381.8,319.4 389.9,319.2 398,318.6 406.1,318.6 414.2,318.9 422.3,319.2 430.4,320 438.5,324.4 446.6,329.4 454.7,328.2 462.8,323.2 470.9,321.1 479,320 487.1,319.2 495.2,319.1 503.3,318 511.4,318.1 519.5,318.1 527.6,318 535.7,317.9 543.8,318.3 551.9,318.5 560,318.3 568.1,318.8 576.2,329.3 584.3,339 592.4,346.6 600.5,348 608.6,349.1 616.7,350 624.8,350.3 632.9,350.6 641,351.6 649.1,351.5 657.2,354.8 662,354.8 662,370 70,370" fill="#fff6e4" stroke="#fee0a4" stroke-opacity="0.85" stroke-width="1.40"/>
<polygon points="70,321.6 74,321.6 82.1,321.4 90.2,321.7 98.3,322.1 106.4,321.9 114.5,322.2 122.6,322.9 130.7,323.5 138.8,323.9 146.9,324.5 155,325 163.1,325.4 171.2,325.7 179.3,326.7 187.4,327.3 195.5,327.8 203.6,327 211.7,326.2 219.8,326.8 227.9,328.3 236,328.1 244.1,326.5 252.2,326.4 260.3,326.1 268.4,325.6 276.5,325.3 284.6,324.8 292.7,324.3 300.8,323.9 308.9,323.7 317,323.4 325.1,323.2 333.2,323.1 341.3,322.7 349.4,322.4 357.5,322.1 365.6,321.7 373.7,321.5 381.8,321.4 389.9,321.2 398,320.6 406.1,320.6 414.2,320.9 422.3,321.3 430.4,322 438.5,326.1 446.6,331 454.7,329.9 462.8,325.1 470.9,323 479,322 487.1,321.3 495.2,321.2 503.3,320.1 511.4,320.2 519.5,320.3 527.6,320.1 535.7,320 543.8,320.4 551.9,320.6 560,320.4 568.1,320.8 576.2,330.8 584.3,340 592.4,347.4 600.5,348.6 608.6,349.7 616.7,350.6 624.8,350.9 632.9,351.2 641,352.2 649.1,352.1 657.2,355.2 662,355.2 662,370 70,370" fill="#feead4" stroke="#fdb870" stroke-opacity="0.85" stroke-width="1.40"/>
<polygon points="70,323.6 74,323.6 82.1,323.4 90.2,323.6 98.3,324 106.4,323.8 114.5,324.1 122.6,324.7 130.7,325.3 138.8,325.7 146.9,326.3 155,326.7 163.1,327.2 171.2,327.5 179.3,328.4 187.4,328.9 195.5,329.5 203.6,328.7 211.7,327.9 219.8,328.5 227.9,329.9 236,329.7 244.1,328.2 252.2,328 260.3,327.8 268.4,327.4 276.5,327 284.6,326.6 292.7,326.1 300.8,325.7 308.9,325.5 317,325.2 325.1,325.1 333.2,324.9 341.3,324.5 349.4,324.3 357.5,324 365.6,323.6 373.7,323.4 381.8,323.4 389.9,323.2 398,322.6 406.1,322.6 414.2,322.9 422.3,323.3 430.4,323.9 438.5,327.8 446.6,332.5 454.7,331.5 462.8,326.9 470.9,324.9 479,323.9 487.1,323.2 495.2,323.1 503.3,322.2 511.4,322.3 519.5,322.3 527.6,322.2 535.7,322.1 543.8,322.5 551.9,322.6 560,322.5 568.1,322.9 576.2,332.3 584.3,341 592.4,348.1 600.5,349.3 608.6,350.2 616.7,351.2 624.8,351.5 632.9,351.8 641,352.7 649.1,352.7 657.2,355.7 662,355.7 662,370 70,370" fill="#fcd6c8" stroke="#f47846" stroke-opacity="0.92" stroke-width="1.40"/>
<polygon points="70,325.5 74,325.5 82.1,325.3 90.2,325.6 98.3,325.9 106.4,325.7 114.5,326 122.6,326.6 130.7,327.1 138.8,327.5 146.9,328.1 155,328.5 163.1,328.9 171.2,329.2 179.3,330 187.4,330.6 195.5,331.1 203.6,330.3 211.7,329.6 219.8,330.1 227.9,331.4 236,331.2 244.1,329.8 252.2,329.7 260.3,329.5 268.4,329 276.5,328.7 284.6,328.3 292.7,327.8 300.8,327.5 308.9,327.3 317,327 325.1,326.9 333.2,326.7 341.3,326.4 349.4,326.1 357.5,325.8 365.6,325.5 373.7,325.3 381.8,325.3 389.9,325.1 398,324.6 406.1,324.6 414.2,324.9 422.3,325.2 430.4,325.8 438.5,329.5 446.6,334 454.7,333.1 462.8,328.7 470.9,326.7 479,325.8 487.1,325.2 495.2,325.1 503.3,324.2 511.4,324.3 519.5,324.4 527.6,324.3 535.7,324.1 543.8,324.5 551.9,324.7 560,324.5 568.1,324.9 576.2,333.8 584.3,342 592.4,348.8 600.5,349.9 608.6,350.8 616.7,351.7 624.8,352.1 632.9,352.4 641,353.3 649.1,353.2 657.2,356.1 662,356.1 662,370 70,370" fill="#f1bfc5" stroke="#d2364a" stroke-opacity="0.95" stroke-width="1.40"/>
<polygon points="70,327.4 74,327.4 82.1,327.2 90.2,327.4 98.3,327.7 106.4,327.5 114.5,327.8 122.6,328.4 130.7,328.9 138.8,329.3 146.9,329.8 155,330.2 163.1,330.6 171.2,330.9 179.3,331.7 187.4,332.2 195.5,332.7 203.6,331.9 211.7,331.2 219.8,331.7 227.9,332.9 236,332.7 244.1,331.4 252.2,331.3 260.3,331.1 268.4,330.7 276.5,330.4 284.6,330 292.7,329.6 300.8,329.2 308.9,329 317,328.8 325.1,328.6 333.2,328.5 341.3,328.2 349.4,327.9 357.5,327.6 365.6,327.3 373.7,327.2 381.8,327.1 389.9,327 398,326.5 406.1,326.5 414.2,326.8 422.3,327.1 430.4,327.6 438.5,331.1 446.6,335.5 454.7,334.7 462.8,330.5 470.9,328.5 479,327.7 487.1,327.1 495.2,327 503.3,326.1 511.4,326.3 519.5,326.3 527.6,326.3 535.7,326.2 543.8,326.5 551.9,326.6 560,326.5 568.1,326.8 576.2,335.2 584.3,342.9 592.4,349.5 600.5,350.5 608.6,351.3 616.7,352.2 624.8,352.6 632.9,352.9 641,353.8 649.1,353.7 657.2,356.5 662,356.5 662,370 70,370" fill="#f6c7c5" stroke="#e2443e" stroke-opacity="0.95" stroke-width="1.40"/>
<polygon points="70,329.2 74,329.2 82.1,329 90.2,329.2 98.3,329.5 106.4,329.3 114.5,329.6 122.6,330.1 130.7,330.6 138.8,331 146.9,331.5 155,331.8 163.1,332.2 171.2,332.5 179.3,333.3 187.4,333.7 195.5,334.2 203.6,333.5 211.7,332.8 219.8,333.2 227.9,334.4 236,334.2 244.1,332.9 252.2,332.9 260.3,332.7 268.4,332.3 276.5,332 284.6,331.6 292.7,331.2 300.8,330.9 308.9,330.7 317,330.5 325.1,330.3 333.2,330.2 341.3,329.9 349.4,329.7 357.5,329.4 365.6,329.1 373.7,329 381.8,329 389.9,328.8 398,328.4 406.1,328.4 414.2,328.7 422.3,329 430.4,329.4 438.5,332.7 446.6,336.9 454.7,336.2 462.8,332.2 470.9,330.2 479,329.5 487.1,328.9 495.2,328.8 503.3,328 511.4,328.2 519.5,328.3 527.6,328.2 535.7,328.1 543.8,328.4 551.9,328.6 560,328.4 568.1,328.7 576.2,336.6 584.3,343.8 592.4,350.2 600.5,351.1 608.6,351.9 616.7,352.8 624.8,353.2 632.9,353.5 641,354.3 649.1,354.3 657.2,356.8 662,356.8 662,370 70,370" fill="#cd778d" stroke="#a8143a" stroke-opacity="1" stroke-width="1.40"/>
<polygon points="70,330.4 74,330.4 82.1,330.2 90.2,330.4 98.3,330.7 106.4,330.5 114.5,330.8 122.6,331.3 130.7,331.7 138.8,332.1 146.9,332.6 155,332.9 163.1,333.2 171.2,333.5 179.3,334.2 187.4,334.7 195.5,335.1 203.6,334.4 211.7,333.8 219.8,334.2 227.9,335.4 236,335.2 244.1,334 252.2,333.9 260.3,333.8 268.4,333.4 276.5,333.1 284.6,332.8 292.7,332.4 300.8,332.1 308.9,331.9 317,331.7 325.1,331.5 333.2,331.4 341.3,331.1 349.4,330.9 357.5,330.7 365.6,330.4 373.7,330.2 381.8,330.2 389.9,330.1 398,329.6 406.1,329.7 414.2,329.9 422.3,330.2 430.4,330.6 438.5,333.7 446.6,337.7 454.7,337.1 462.8,333.2 470.9,331.4 479,330.7 487.1,330.1 495.2,330 503.3,329.3 511.4,329.5 519.5,329.6 527.6,329.5 535.7,329.4 543.8,329.7 551.9,329.8 560,329.7 568.1,330 576.2,337.6 584.3,344.5 592.4,350.7 600.5,351.6 608.6,352.3 616.7,353.1 624.8,353.5 632.9,353.8 641,354.6 649.1,354.6 657.2,357.1 662,357.1 662,370 70,370" fill="#b5e1c4" stroke="#7ccb98" stroke-opacity="0.82" stroke-width="1.34"/>
<polygon points="70,331.6 74,331.6 82.1,331.4 90.2,331.6 98.3,331.8 106.4,331.6 114.5,331.8 122.6,332.3 130.7,332.8 138.8,333.1 146.9,333.5 155,333.9 163.1,334.2 171.2,334.4 179.3,335.2 187.4,335.6 195.5,336 203.6,335.3 211.7,334.7 219.8,335.1 227.9,336.3 236,336.1 244.1,334.9 252.2,334.9 260.3,334.8 268.4,334.4 276.5,334.1 284.6,333.8 292.7,333.4 300.8,333.2 308.9,333 317,332.8 325.1,332.7 333.2,332.6 341.3,332.3 349.4,332.1 357.5,331.8 365.6,331.5 373.7,331.4 381.8,331.4 389.9,331.2 398,330.8 406.1,330.8 414.2,331.1 422.3,331.4 430.4,331.7 438.5,334.7 446.6,338.5 454.7,337.8 462.8,334.2 470.9,332.4 479,331.8 487.1,331.2 495.2,331.2 503.3,330.5 511.4,330.7 519.5,330.7 527.6,330.7 535.7,330.6 543.8,330.9 551.9,331 560,330.8 568.1,331.1 576.2,338.5 584.3,345.2 592.4,351.1 600.5,352 608.6,352.7 616.7,353.5 624.8,353.9 632.9,354.1 641,354.9 649.1,354.9 657.2,357.3 662,357.3 662,370 70,370" fill="#ceebd0" stroke="#a0d8a4" stroke-opacity="0.74" stroke-width="1.39"/>
<polygon points="70,332.7 74,332.7 82.1,332.5 90.2,332.7 98.3,332.9 106.4,332.7 114.5,333 122.6,333.4 130.7,333.8 138.8,334.1 146.9,334.6 155,334.9 163.1,335.2 171.2,335.4 179.3,336.1 187.4,336.5 195.5,336.9 203.6,336.3 211.7,335.7 219.8,336.1 227.9,337.2 236,337.1 244.1,335.9 252.2,335.9 260.3,335.8 268.4,335.5 276.5,335.2 284.6,334.9 292.7,334.6 300.8,334.3 308.9,334.1 317,333.9 325.1,333.8 333.2,333.8 341.3,333.5 349.4,333.2 357.5,333 365.6,332.7 373.7,332.6 381.8,332.6 389.9,332.4 398,332 406.1,332 414.2,332.3 422.3,332.6 430.4,332.9 438.5,335.7 446.6,339.3 454.7,338.7 462.8,335.2 470.9,333.5 479,332.9 487.1,332.4 495.2,332.4 503.3,331.7 511.4,331.9 519.5,332 527.6,331.9 535.7,331.8 543.8,332.1 551.9,332.2 560,332.1 568.1,332.3 576.2,339.4 584.3,345.9 592.4,351.6 600.5,352.4 608.6,353.1 616.7,353.9 624.8,354.2 632.9,354.5 641,355.2 649.1,355.2 657.2,357.5 662,357.5 662,370 70,370" fill="#eef7cc" stroke="#dff0a0" stroke-opacity="0.85" stroke-width="1.40"/>
<polygon points="70,333.9 74,333.9 82.1,333.7 90.2,333.9 98.3,334.1 106.4,333.9 114.5,334.1 122.6,334.5 130.7,334.9 138.8,335.2 146.9,335.6 155,335.9 163.1,336.2 171.2,336.4 179.3,337.1 187.4,337.5 195.5,337.8 203.6,337.2 211.7,336.7 219.8,337.1 227.9,338.2 236,338 244.1,337 252.2,336.9 260.3,336.9 268.4,336.5 276.5,336.3 284.6,336 292.7,335.7 300.8,335.4 308.9,335.3 317,335.1 325.1,335 333.2,335 341.3,334.7 349.4,334.5 357.5,334.2 365.6,334 373.7,333.9 381.8,333.8 389.9,333.7 398,333.3 406.1,333.3 414.2,333.5 422.3,333.8 430.4,334.1 438.5,336.7 446.6,340.1 454.7,339.5 462.8,336.2 470.9,334.7 479,334.1 487.1,333.6 495.2,333.6 503.3,333 511.4,333.2 519.5,333.2 527.6,333.2 535.7,333.1 543.8,333.4 551.9,333.5 560,333.3 568.1,333.5 576.2,340.3 584.3,346.5 592.4,352.1 600.5,352.8 608.6,353.5 616.7,354.2 624.8,354.5 632.9,354.8 641,355.5 649.1,355.5 657.2,357.7 662,357.7 662,370 70,370" fill="#fffde6" stroke="#fffacc" stroke-opacity="0.9" stroke-width="1.40"/>
<polygon points="70,335.3 74,335.3 82.1,335.1 90.2,335.2 98.3,335.4 106.4,335.2 114.5,335.4 122.6,335.8 130.7,336.2 138.8,336.4 146.9,336.8 155,337.1 163.1,337.3 171.2,337.5 179.3,338.1 187.4,338.5 195.5,338.8 203.6,338.3 211.7,337.8 219.8,338.2 227.9,339.2 236,339.1 244.1,338.1 252.2,338.1 260.3,338 268.4,337.7 276.5,337.5 284.6,337.2 292.7,336.9 300.8,336.7 308.9,336.6 317,336.4 325.1,336.4 333.2,336.3 341.3,336 349.4,335.8 357.5,335.6 365.6,335.3 373.7,335.2 381.8,335.2 389.9,335 398,334.7 406.1,334.7 414.2,334.9 422.3,335.1 430.4,335.4 438.5,337.8 446.6,341 454.7,340.4 462.8,337.3 470.9,335.9 479,335.4 487.1,334.9 495.2,334.9 503.3,334.4 511.4,334.6 519.5,334.6 527.6,334.6 535.7,334.5 543.8,334.8 551.9,334.8 560,334.7 568.1,334.9 576.2,341.4 584.3,347.3 592.4,352.6 600.5,353.3 608.6,353.9 616.7,354.6 624.8,354.9 632.9,355.2 641,355.9 649.1,355.8 657.2,358 662,358 662,370 70,370" fill="#fff2d9" stroke="#fee0a4" stroke-opacity="0.85" stroke-width="1.40"/>
<polygon points="70,336.7 74,336.7 82.1,336.5 90.2,336.6 98.3,336.8 106.4,336.6 114.5,336.8 122.6,337.1 130.7,337.5 138.8,337.7 146.9,338.1 155,338.3 163.1,338.6 171.2,338.7 179.3,339.3 187.4,339.6 195.5,340 203.6,339.4 211.7,339 219.8,339.4 227.9,340.4 236,340.3 244.1,339.3 252.2,339.4 260.3,339.3 268.4,339 276.5,338.8 284.6,338.6 292.7,338.3 300.8,338.1 308.9,338 317,337.9 325.1,337.8 333.2,337.8 341.3,337.5 349.4,337.3 357.5,337.1 365.6,336.8 373.7,336.7 381.8,336.7 389.9,336.6 398,336.2 406.1,336.2 414.2,336.4 422.3,336.6 430.4,336.8 438.5,339.1 446.6,342 454.7,341.5 462.8,338.6 470.9,337.3 479,336.8 487.1,336.4 495.2,336.4 503.3,335.9 511.4,336.1 519.5,336.2 527.6,336.1 535.7,336.1 543.8,336.3 551.9,336.3 560,336.2 568.1,336.4 576.2,342.5 584.3,348.2 592.4,353.2 600.5,353.9 608.6,354.4 616.7,355.1 624.8,355.4 632.9,355.6 641,356.2 649.1,356.2 657.2,358.2 662,358.2 662,370 70,370" fill="#fee3c6" stroke="#fdb870" stroke-opacity="0.85" stroke-width="1.40"/>
<polygon points="70,338.2 74,338.2 82.1,338 90.2,338.1 98.3,338.3 106.4,338.1 114.5,338.2 122.6,338.5 130.7,338.9 138.8,339.1 146.9,339.4 155,339.6 163.1,339.8 171.2,340 179.3,340.5 187.4,340.8 195.5,341.1 203.6,340.6 211.7,340.2 219.8,340.6 227.9,341.6 236,341.5 244.1,340.6 252.2,340.7 260.3,340.6 268.4,340.4 276.5,340.2 284.6,340 292.7,339.7 300.8,339.6 308.9,339.5 317,339.3 325.1,339.3 333.2,339.3 341.3,339 349.4,338.8 357.5,338.6 365.6,338.4 373.7,338.3 381.8,338.2 389.9,338.1 398,337.7 406.1,337.7 414.2,337.9 422.3,338.1 430.4,338.3 438.5,340.4 446.6,343 454.7,342.5 462.8,339.9 470.9,338.7 479,338.2 487.1,337.9 495.2,337.9 503.3,337.5 511.4,337.7 519.5,337.7 527.6,337.7 535.7,337.6 543.8,337.8 551.9,337.9 560,337.7 568.1,337.9 576.2,343.7 584.3,349 592.4,353.8 600.5,354.4 608.6,354.9 616.7,355.5 624.8,355.8 632.9,356 641,356.6 649.1,356.6 657.2,358.5 662,358.5 662,370 70,370" fill="#fbc9b5" stroke="#f47846" stroke-opacity="0.92" stroke-width="1.40"/>
<polygon points="70,339.7 74,339.7 82.1,339.5 90.2,339.6 98.3,339.7 106.4,339.5 114.5,339.6 122.6,339.9 130.7,340.2 138.8,340.4 146.9,340.7 155,340.9 163.1,341.1 171.2,341.2 179.3,341.7 187.4,342 195.5,342.2 203.6,341.8 211.7,341.4 219.8,341.8 227.9,342.8 236,342.7 244.1,341.9 252.2,341.9 260.3,341.9 268.4,341.7 276.5,341.6 284.6,341.4 292.7,341.1 300.8,341 308.9,340.9 317,340.8 325.1,340.8 333.2,340.8 341.3,340.5 349.4,340.3 357.5,340.2 365.6,339.9 373.7,339.8 381.8,339.8 389.9,339.6 398,339.3 406.1,339.3 414.2,339.4 422.3,339.7 430.4,339.7 438.5,341.6 446.6,344 454.7,343.5 462.8,341.1 470.9,340.1 479,339.7 487.1,339.4 495.2,339.5 503.3,339 511.4,339.2 519.5,339.3 527.6,339.3 535.7,339.2 543.8,339.4 551.9,339.4 560,339.3 568.1,339.4 576.2,344.9 584.3,349.9 592.4,354.4 600.5,355 608.6,355.4 616.7,356 624.8,356.2 632.9,356.4 641,357 649.1,357 657.2,358.8 662,358.8 662,370 70,370" fill="#eba5ae" stroke="#d2364a" stroke-opacity="0.95" stroke-width="1.40"/>
<polygon points="70,341.1 74,341.1 82.1,340.9 90.2,341 98.3,341.1 106.4,340.9 114.5,341 122.6,341.3 130.7,341.5 138.8,341.7 146.9,342 155,342.1 163.1,342.3 171.2,342.4 179.3,342.9 187.4,343.1 195.5,343.3 203.6,343 211.7,342.6 219.8,343 227.9,343.9 236,343.9 244.1,343.1 252.2,343.2 260.3,343.2 268.4,343 276.5,342.9 284.6,342.7 292.7,342.5 300.8,342.4 308.9,342.3 317,342.2 325.1,342.2 333.2,342.2 341.3,342 349.4,341.8 357.5,341.6 365.6,341.4 373.7,341.3 381.8,341.2 389.9,341.1 398,340.8 406.1,340.8 414.2,340.9 422.3,341.1 430.4,341.2 438.5,342.8 446.6,345 454.7,344.5 462.8,342.3 470.9,341.5 479,341.1 487.1,340.8 495.2,340.9 503.3,340.5 511.4,340.8 519.5,340.8 527.6,340.8 535.7,340.7 543.8,340.9 551.9,340.9 560,340.8 568.1,340.9 576.2,346 584.3,350.7 592.4,355 600.5,355.5 608.6,355.9 616.7,356.4 624.8,356.7 632.9,356.8 641,357.4 649.1,357.3 657.2,359 662,359 662,370 70,370" fill="#f2a8a6" stroke="#e2443e" stroke-opacity="0.95" stroke-width="1.40"/>
<polygon points="70,342.5 74,342.5 82.1,342.3 90.2,342.3 98.3,342.4 106.4,342.2 114.5,342.3 122.6,342.6 130.7,342.8 138.8,342.9 146.9,343.2 155,343.3 163.1,343.4 171.2,343.5 179.3,344 187.4,344.2 195.5,344.4 203.6,344 211.7,343.7 219.8,344.1 227.9,345 236,345 244.1,344.3 252.2,344.4 260.3,344.4 268.4,344.2 276.5,344.1 284.6,344 292.7,343.8 300.8,343.7 308.9,343.6 317,343.6 325.1,343.6 333.2,343.6 341.3,343.4 349.4,343.2 357.5,343 365.6,342.8 373.7,342.7 381.8,342.6 389.9,342.5 398,342.2 406.1,342.2 414.2,342.3 422.3,342.5 430.4,342.5 438.5,344 446.6,345.9 454.7,345.5 462.8,343.5 470.9,342.8 479,342.4 487.1,342.2 495.2,342.3 503.3,342 511.4,342.2 519.5,342.3 527.6,342.2 535.7,342.2 543.8,342.3 551.9,342.4 560,342.2 568.1,342.3 576.2,347.1 584.3,351.5 592.4,355.6 600.5,356 608.6,356.4 616.7,356.9 624.8,357.1 632.9,357.2 641,357.7 649.1,357.7 657.2,359.3 662,359.3 662,370 70,370" fill="#bf516d" stroke="#a8143a" stroke-opacity="1" stroke-width="1.09"/>
<polygon points="70,343.4 74,343.4 82.1,343.2 90.2,343.3 98.3,343.4 106.4,343.2 114.5,343.2 122.6,343.5 130.7,343.7 138.8,343.8 146.9,344.1 155,344.2 163.1,344.3 171.2,344.4 179.3,344.8 187.4,345 195.5,345.2 203.6,344.9 211.7,344.5 219.8,344.9 227.9,345.8 236,345.8 244.1,345.1 252.2,345.2 260.3,345.2 268.4,345.1 276.5,344.9 284.6,344.8 292.7,344.7 300.8,344.5 308.9,344.5 317,344.5 325.1,344.5 333.2,344.5 341.3,344.3 349.4,344.1 357.5,343.9 365.6,343.7 373.7,343.6 381.8,343.5 389.9,343.4 398,343.1 406.1,343.1 414.2,343.2 422.3,343.4 430.4,343.4 438.5,344.8 446.6,346.7 454.7,346.3 462.8,344.4 470.9,343.7 479,343.3 487.1,343.1 495.2,343.2 503.3,342.9 511.4,343.1 519.5,343.1 527.6,343.1 535.7,343.1 543.8,343.2 551.9,343.2 560,343.1 568.1,343.2 576.2,347.8 584.3,352 592.4,355.9 600.5,356.3 608.6,356.6 616.7,357.1 624.8,357.3 632.9,357.4 641,357.9 649.1,357.9 657.2,359.4 662,359.4 662,370 70,370" fill="#a1dab5" stroke="#7ccb98" stroke-opacity="0.82" stroke-width="1.01"/>
<polygon points="70,344.3 74,344.3 82.1,344.1 90.2,344.1 98.3,344.2 106.4,344 114.5,344.1 122.6,344.3 130.7,344.5 138.8,344.7 146.9,344.9 155,345 163.1,345.1 171.2,345.2 179.3,345.6 187.4,345.8 195.5,346 203.6,345.6 211.7,345.3 219.8,345.6 227.9,346.5 236,346.5 244.1,345.8 252.2,345.9 260.3,346 268.4,345.8 276.5,345.7 284.6,345.6 292.7,345.4 300.8,345.3 308.9,345.3 317,345.3 325.1,345.3 333.2,345.3 341.3,345.1 349.4,344.9 357.5,344.7 365.6,344.5 373.7,344.4 381.8,344.4 389.9,344.2 398,344 406.1,343.9 414.2,344.1 422.3,344.2 430.4,344.2 438.5,345.6 446.6,347.4 454.7,347 462.8,345.1 470.9,344.5 479,344.1 487.1,343.9 495.2,344 503.3,343.7 511.4,343.9 519.5,344 527.6,343.9 535.7,343.9 543.8,344 551.9,344.1 560,343.9 568.1,344 576.2,348.4 584.3,352.4 592.4,356.2 600.5,356.6 608.6,356.9 616.7,357.3 624.8,357.5 632.9,357.6 641,358.1 649.1,358.1 657.2,359.6 662,359.6 662,370 70,370" fill="#bfe5c2" stroke="#a0d8a4" stroke-opacity="0.74" stroke-width="1.04"/>
<polygon points="70,345.1 74,345.1 82.1,345 90.2,345 98.3,345.1 106.4,344.9 114.5,345 122.6,345.2 130.7,345.4 138.8,345.5 146.9,345.7 155,345.8 163.1,345.9 171.2,346 179.3,346.4 187.4,346.6 195.5,346.7 203.6,346.4 211.7,346.1 219.8,346.4 227.9,347.2 236,347.2 244.1,346.6 252.2,346.7 260.3,346.7 268.4,346.6 276.5,346.5 284.6,346.4 292.7,346.2 300.8,346.2 308.9,346.1 317,346.1 325.1,346.1 333.2,346.1 341.3,345.9 349.4,345.8 357.5,345.6 365.6,345.4 373.7,345.3 381.8,345.2 389.9,345.1 398,344.8 406.1,344.8 414.2,344.9 422.3,345.1 430.4,345 438.5,346.4 446.6,348.2 454.7,347.8 462.8,346 470.9,345.3 479,344.9 487.1,344.8 495.2,344.9 503.3,344.6 511.4,344.8 519.5,344.8 527.6,344.8 535.7,344.8 543.8,344.9 551.9,344.9 560,344.8 568.1,344.8 576.2,349 584.3,352.9 592.4,356.5 600.5,356.8 608.6,357.1 616.7,357.6 624.8,357.7 632.9,357.8 641,358.3 649.1,358.2 657.2,359.7 662,359.7 662,370 70,370" fill="#e9f5bd" stroke="#dff0a0" stroke-opacity="0.85" stroke-width="1.06"/>
<polygon points="70,346 74,346 82.1,345.9 90.2,345.9 98.3,346 106.4,345.8 114.5,345.9 122.6,346.1 130.7,346.3 138.8,346.4 146.9,346.6 155,346.7 163.1,346.8 171.2,346.8 179.3,347.2 187.4,347.4 195.5,347.5 203.6,347.2 211.7,346.9 219.8,347.2 227.9,347.9 236,347.9 244.1,347.4 252.2,347.5 260.3,347.5 268.4,347.4 276.5,347.3 284.6,347.2 292.7,347.1 300.8,347 308.9,347 317,346.9 325.1,346.9 333.2,347 341.3,346.8 349.4,346.6 357.5,346.5 365.6,346.3 373.7,346.2 381.8,346.1 389.9,346 398,345.7 406.1,345.7 414.2,345.8 422.3,345.9 430.4,345.9 438.5,347.2 446.6,348.9 454.7,348.6 462.8,346.8 470.9,346.2 479,345.8 487.1,345.6 495.2,345.7 503.3,345.5 511.4,345.6 519.5,345.7 527.6,345.7 535.7,345.6 543.8,345.8 551.9,345.8 560,345.6 568.1,345.7 576.2,349.7 584.3,353.4 592.4,356.8 600.5,357.1 608.6,357.4 616.7,357.8 624.8,357.9 632.9,358 641,358.5 649.1,358.4 657.2,359.9 662,359.9 662,370 70,370" fill="#fffcdd" stroke="#fffacc" stroke-opacity="0.9" stroke-width="1.18"/>
<polygon points="70,347 74,347 82.1,346.9 90.2,346.9 98.3,347 106.4,346.8 114.5,346.9 122.6,347.1 130.7,347.3 138.8,347.3 146.9,347.5 155,347.6 163.1,347.7 171.2,347.8 179.3,348.1 187.4,348.3 195.5,348.4 203.6,348.1 211.7,347.8 219.8,348.1 227.9,348.8 236,348.8 244.1,348.2 252.2,348.3 260.3,348.4 268.4,348.3 276.5,348.2 284.6,348.1 292.7,348 300.8,347.9 308.9,347.9 317,347.9 325.1,347.9 333.2,347.9 341.3,347.7 349.4,347.6 357.5,347.4 365.6,347.2 373.7,347.1 381.8,347.1 389.9,347 398,346.7 406.1,346.7 414.2,346.8 422.3,346.9 430.4,346.9 438.5,348.1 446.6,349.8 454.7,349.5 462.8,347.7 470.9,347.1 479,346.8 487.1,346.6 495.2,346.7 503.3,346.4 511.4,346.6 519.5,346.7 527.6,346.6 535.7,346.6 543.8,346.7 551.9,346.7 560,346.6 568.1,346.7 576.2,350.4 584.3,353.9 592.4,357.1 600.5,357.4 608.6,357.7 616.7,358.1 624.8,358.2 632.9,358.3 641,358.7 649.1,358.6 657.2,360 662,360 662,370 70,370" fill="#feecc8" stroke="#fee0a4" stroke-opacity="0.85" stroke-width="1.30"/>
<polygon points="70,348.1 74,348.1 82.1,348 90.2,348 98.3,348.1 106.4,347.9 114.5,348 122.6,348.2 130.7,348.3 138.8,348.4 146.9,348.6 155,348.7 163.1,348.7 171.2,348.8 179.3,349.1 187.4,349.2 195.5,349.4 203.6,349.1 211.7,348.8 219.8,349 227.9,349.7 236,349.7 244.1,349.2 252.2,349.3 260.3,349.4 268.4,349.3 276.5,349.2 284.6,349.1 292.7,349 300.8,348.9 308.9,348.9 317,348.9 325.1,348.9 333.2,349 341.3,348.8 349.4,348.6 357.5,348.5 365.6,348.3 373.7,348.2 381.8,348.2 389.9,348.1 398,347.8 406.1,347.8 414.2,347.9 422.3,348 430.4,347.9 438.5,349.1 446.6,350.7 454.7,350.4 462.8,348.8 470.9,348.2 479,347.8 487.1,347.7 495.2,347.8 503.3,347.5 511.4,347.7 519.5,347.7 527.6,347.7 535.7,347.7 543.8,347.8 551.9,347.8 560,347.7 568.1,347.7 576.2,351.2 584.3,354.5 592.4,357.5 600.5,357.8 608.6,358 616.7,358.3 624.8,358.4 632.9,358.5 641,358.9 649.1,358.9 657.2,360.2 662,360.2 662,370 70,370" fill="#fed5aa" stroke="#fdb870" stroke-opacity="0.85" stroke-width="1.32"/>
<polygon points="70,349.2 74,349.2 82.1,349.1 90.2,349.1 98.3,349.2 106.4,349 114.5,349.1 122.6,349.3 130.7,349.4 138.8,349.5 146.9,349.6 155,349.7 163.1,349.8 171.2,349.8 179.3,350.1 187.4,350.2 195.5,350.4 203.6,350.1 211.7,349.8 219.8,350 227.9,350.6 236,350.6 244.1,350.2 252.2,350.3 260.3,350.4 268.4,350.3 276.5,350.2 284.6,350.1 292.7,350 300.8,350 308.9,350 317,350 325.1,350 333.2,350 341.3,349.9 349.4,349.7 357.5,349.6 365.6,349.4 373.7,349.3 381.8,349.3 389.9,349.2 398,348.9 406.1,348.9 414.2,349 422.3,349.1 430.4,349 438.5,350.2 446.6,351.7 454.7,351.4 462.8,349.8 470.9,349.2 479,348.9 487.1,348.8 495.2,348.9 503.3,348.6 511.4,348.8 519.5,348.8 527.6,348.8 535.7,348.8 543.8,348.9 551.9,348.9 560,348.8 568.1,348.8 576.2,352.1 584.3,355.1 592.4,357.9 600.5,358.1 608.6,358.3 616.7,358.6 624.8,358.7 632.9,358.8 641,359.2 649.1,359.1 657.2,360.4 662,360.4 662,370 70,370" fill="#f8ae91" stroke="#f47846" stroke-opacity="0.92" stroke-width="1.32"/>
<polygon points="70,350.3 74,350.3 82.1,350.2 90.2,350.2 98.3,350.3 106.4,350.2 114.5,350.2 122.6,350.4 130.7,350.5 138.8,350.6 146.9,350.7 155,350.8 163.1,350.8 171.2,350.9 179.3,351.1 187.4,351.2 195.5,351.3 203.6,351.1 211.7,350.8 219.8,351 227.9,351.5 236,351.5 244.1,351.1 252.2,351.3 260.3,351.3 268.4,351.3 276.5,351.2 284.6,351.1 292.7,351.1 300.8,351 308.9,351 317,351 325.1,351.1 333.2,351.1 341.3,350.9 349.4,350.8 357.5,350.7 365.6,350.5 373.7,350.4 381.8,350.4 389.9,350.2 398,350 406.1,350 414.2,350.1 422.3,350.2 430.4,350.1 438.5,351.2 446.6,352.6 454.7,352.4 462.8,350.8 470.9,350.3 479,350 487.1,349.9 495.2,350 503.3,349.7 511.4,349.9 519.5,349.9 527.6,349.9 535.7,349.9 543.8,349.9 551.9,350 560,349.9 568.1,349.9 576.2,352.9 584.3,355.6 592.4,358.2 600.5,358.5 608.6,358.7 616.7,358.9 624.8,359 632.9,359 641,359.4 649.1,359.4 657.2,360.6 662,360.6 662,370 70,370" fill="#e27f8c" stroke="#d2364a" stroke-opacity="0.95" stroke-width="1.28"/>
<polygon points="70,351.4 74,351.4 82.1,351.3 90.2,351.3 98.3,351.4 106.4,351.2 114.5,351.3 122.6,351.4 130.7,351.6 138.8,351.6 146.9,351.7 155,351.8 163.1,351.8 171.2,351.9 179.3,352.1 187.4,352.2 195.5,352.3 203.6,352 211.7,351.8 219.8,351.9 227.9,352.4 236,352.4 244.1,352.1 252.2,352.2 260.3,352.3 268.4,352.2 276.5,352.2 284.6,352.1 292.7,352.1 300.8,352 308.9,352 317,352 325.1,352.1 333.2,352.1 341.3,352 349.4,351.8 357.5,351.7 365.6,351.6 373.7,351.5 381.8,351.4 389.9,351.3 398,351.1 406.1,351.1 414.2,351.1 422.3,351.2 430.4,351.1 438.5,352.2 446.6,353.5 454.7,353.3 462.8,351.8 470.9,351.3 479,351 487.1,350.9 495.2,351 503.3,350.8 511.4,350.9 519.5,350.9 527.6,350.9 535.7,350.9 543.8,351 551.9,351 560,350.9 568.1,350.9 576.2,353.7 584.3,356.2 592.4,358.6 600.5,358.8 608.6,359 616.7,359.2 624.8,359.3 632.9,359.3 641,359.6 649.1,359.6 657.2,360.8 662,360.8 662,370 70,370" fill="#ec8783" stroke="#e2443e" stroke-opacity="0.95" stroke-width="1.22"/>
<polygon points="70,352.4 74,352.4 82.1,352.3 90.2,352.3 98.3,352.4 106.4,352.3 114.5,352.3 122.6,352.5 130.7,352.6 138.8,352.6 146.9,352.7 155,352.8 163.1,352.8 171.2,352.8 179.3,353 187.4,353.1 195.5,353.2 203.6,352.9 211.7,352.7 219.8,352.8 227.9,353.3 236,353.3 244.1,353 252.2,353.1 260.3,353.2 268.4,353.1 276.5,353.1 284.6,353.1 292.7,353 300.8,353 308.9,353 317,353 325.1,353.1 333.2,353.1 341.3,353 349.4,352.8 357.5,352.7 365.6,352.6 373.7,352.5 381.8,352.4 389.9,352.3 398,352.1 406.1,352.1 414.2,352.1 422.3,352.2 430.4,352.1 438.5,353.1 446.6,354.4 454.7,354.2 462.8,352.8 470.9,352.3 479,352 487.1,351.9 495.2,352 503.3,351.8 511.4,351.9 519.5,351.9 527.6,351.9 535.7,351.9 543.8,352 551.9,352 560,351.9 568.1,351.9 576.2,354.4 584.3,356.7 592.4,358.9 600.5,359.1 608.6,359.3 616.7,359.5 624.8,359.5 632.9,359.5 641,359.9 649.1,359.8 657.2,360.9 662,360.9 662,370 70,370" fill="#be4f6b" stroke="#a8143a" stroke-opacity="1" stroke-width="0.83"/>
<polygon points="70,353.1 74,353.1 82.1,353 90.2,353 98.3,353 106.4,352.9 114.5,353 122.6,353.1 130.7,353.3 138.8,353.3 146.9,353.4 155,353.4 163.1,353.5 171.2,353.5 179.3,353.7 187.4,353.8 195.5,353.9 203.6,353.6 211.7,353.4 219.8,353.5 227.9,354 236,354 244.1,353.7 252.2,353.8 260.3,353.9 268.4,353.8 276.5,353.8 284.6,353.7 292.7,353.7 300.8,353.6 308.9,353.7 317,353.7 325.1,353.7 333.2,353.7 341.3,353.6 349.4,353.5 357.5,353.4 365.6,353.2 373.7,353.1 381.8,353.1 389.9,353 398,352.8 406.1,352.8 414.2,352.8 422.3,352.9 430.4,352.8 438.5,353.7 446.6,355 454.7,354.8 462.8,353.4 470.9,353 479,352.7 487.1,352.6 495.2,352.7 503.3,352.5 511.4,352.6 519.5,352.6 527.6,352.6 535.7,352.6 543.8,352.6 551.9,352.6 560,352.6 568.1,352.6 576.2,354.9 584.3,357.1 592.4,359.2 600.5,359.4 608.6,359.5 616.7,359.7 624.8,359.7 632.9,359.7 641,360 649.1,360 657.2,361.1 662,361.1 662,370 70,370" fill="#9dd8b2" stroke="#7ccb98" stroke-opacity="0.82" stroke-width="0.80"/>
<polygon points="70,353.7 74,353.7 82.1,353.6 90.2,353.6 98.3,353.6 106.4,353.6 114.5,353.6 122.6,353.7 130.7,353.9 138.8,353.9 146.9,354 155,354 163.1,354.1 171.2,354.1 179.3,354.3 187.4,354.4 195.5,354.5 203.6,354.2 211.7,354 219.8,354.2 227.9,354.6 236,354.6 244.1,354.3 252.2,354.4 260.3,354.5 268.4,354.4 276.5,354.4 284.6,354.3 292.7,354.3 300.8,354.2 308.9,354.3 317,354.3 325.1,354.3 333.2,354.3 341.3,354.2 349.4,354.1 357.5,354 365.6,353.8 373.7,353.7 381.8,353.7 389.9,353.6 398,353.4 406.1,353.4 414.2,353.4 422.3,353.5 430.4,353.4 438.5,354.3 446.6,355.5 454.7,355.3 462.8,354 470.9,353.6 479,353.3 487.1,353.2 495.2,353.3 503.3,353.1 511.4,353.2 519.5,353.2 527.6,353.2 535.7,353.2 543.8,353.2 551.9,353.2 560,353.2 568.1,353.2 576.2,355.4 584.3,357.5 592.4,359.4 600.5,359.6 608.6,359.7 616.7,359.9 624.8,359.9 632.9,359.9 641,360.2 649.1,360.2 657.2,361.2 662,361.2 662,370 70,370" fill="#b8e2bb" stroke="#a0d8a4" stroke-opacity="0.74" stroke-width="0.80"/>
<polygon points="70,354.3 74,354.3 82.1,354.2 90.2,354.2 98.3,354.3 106.4,354.2 114.5,354.2 122.6,354.4 130.7,354.5 138.8,354.5 146.9,354.6 155,354.7 163.1,354.7 171.2,354.7 179.3,354.9 187.4,355 195.5,355.1 203.6,354.9 211.7,354.7 219.8,354.8 227.9,355.2 236,355.2 244.1,354.9 252.2,355 260.3,355.1 268.4,355 276.5,355 284.6,354.9 292.7,354.9 300.8,354.9 308.9,354.9 317,354.9 325.1,354.9 333.2,354.9 341.3,354.8 349.4,354.7 357.5,354.6 365.6,354.4 373.7,354.4 381.8,354.3 389.9,354.2 398,354.1 406.1,354 414.2,354.1 422.3,354.1 430.4,354 438.5,354.9 446.6,356 454.7,355.8 462.8,354.7 470.9,354.2 479,353.9 487.1,353.8 495.2,353.9 503.3,353.7 511.4,353.8 519.5,353.8 527.6,353.8 535.7,353.8 543.8,353.8 551.9,353.9 560,353.8 568.1,353.8 576.2,355.9 584.3,357.8 592.4,359.6 600.5,359.8 608.6,359.9 616.7,360.1 624.8,360.1 632.9,360.1 641,360.4 649.1,360.3 657.2,361.3 662,361.3 662,370 70,370" fill="#e7f4b8" stroke="#dff0a0" stroke-opacity="0.85" stroke-width="0.81"/>
<polygon points="70,354.9 74,354.9 82.1,354.8 90.2,354.9 98.3,354.9 106.4,354.8 114.5,354.9 122.6,355 130.7,355.1 138.8,355.2 146.9,355.3 155,355.3 163.1,355.4 171.2,355.4 179.3,355.6 187.4,355.7 195.5,355.8 203.6,355.6 211.7,355.4 219.8,355.5 227.9,355.9 236,355.9 244.1,355.6 252.2,355.7 260.3,355.7 268.4,355.7 276.5,355.6 284.6,355.6 292.7,355.5 300.8,355.5 308.9,355.5 317,355.5 325.1,355.5 333.2,355.5 341.3,355.4 349.4,355.3 357.5,355.2 365.6,355.1 373.7,355 381.8,355 389.9,354.9 398,354.7 406.1,354.7 414.2,354.7 422.3,354.8 430.4,354.7 438.5,355.5 446.6,356.6 454.7,356.4 462.8,355.3 470.9,354.9 479,354.6 487.1,354.5 495.2,354.6 503.3,354.4 511.4,354.4 519.5,354.4 527.6,354.4 535.7,354.4 543.8,354.5 551.9,354.5 560,354.4 568.1,354.4 576.2,356.4 584.3,358.2 592.4,359.9 600.5,360 608.6,360.1 616.7,360.3 624.8,360.3 632.9,360.3 641,360.6 649.1,360.5 657.2,361.4 662,361.4 662,370 70,370" fill="#fffbd9" stroke="#fffacc" stroke-opacity="0.9" stroke-width="0.90"/>
<polygon points="70,355.6 74,355.6 82.1,355.6 90.2,355.6 98.3,355.6 106.4,355.6 114.5,355.6 122.6,355.7 130.7,355.8 138.8,355.9 146.9,356 155,356 163.1,356.1 171.2,356.1 179.3,356.3 187.4,356.4 195.5,356.5 203.6,356.3 211.7,356.1 219.8,356.3 227.9,356.6 236,356.6 244.1,356.3 252.2,356.4 260.3,356.4 268.4,356.4 276.5,356.3 284.6,356.3 292.7,356.2 300.8,356.2 308.9,356.2 317,356.2 325.1,356.2 333.2,356.2 341.3,356.1 349.4,356 357.5,355.9 365.6,355.8 373.7,355.7 381.8,355.7 389.9,355.6 398,355.4 406.1,355.4 414.2,355.4 422.3,355.5 430.4,355.4 438.5,356.1 446.6,357.2 454.7,357 462.8,356 470.9,355.6 479,355.3 487.1,355.2 495.2,355.3 503.3,355.1 511.4,355.1 519.5,355.2 527.6,355.1 535.7,355.1 543.8,355.2 551.9,355.2 560,355.1 568.1,355.1 576.2,357 584.3,358.6 592.4,360.1 600.5,360.2 608.6,360.3 616.7,360.5 624.8,360.5 632.9,360.5 641,360.8 649.1,360.7 657.2,361.6 662,361.6 662,370 70,370" fill="#fee8bb" stroke="#fee0a4" stroke-opacity="0.85" stroke-width="0.99"/>
<polygon points="70,356.4 74,356.4 82.1,356.4 90.2,356.4 98.3,356.4 106.4,356.4 114.5,356.4 122.6,356.5 130.7,356.6 138.8,356.7 146.9,356.8 155,356.8 163.1,356.9 171.2,356.9 179.3,357.1 187.4,357.2 195.5,357.3 203.6,357.1 211.7,357 219.8,357.1 227.9,357.4 236,357.4 244.1,357.2 252.2,357.2 260.3,357.2 268.4,357.2 276.5,357.1 284.6,357.1 292.7,357 300.8,357 308.9,357 317,357 325.1,357 333.2,357 341.3,356.9 349.4,356.8 357.5,356.7 365.6,356.6 373.7,356.5 381.8,356.5 389.9,356.4 398,356.2 406.1,356.2 414.2,356.2 422.3,356.3 430.4,356.2 438.5,356.9 446.6,357.8 454.7,357.7 462.8,356.8 470.9,356.4 479,356.1 487.1,356 495.2,356.1 503.3,355.9 511.4,355.9 519.5,355.9 527.6,355.9 535.7,355.9 543.8,356 551.9,356 560,355.9 568.1,355.9 576.2,357.6 584.3,359 592.4,360.4 600.5,360.5 608.6,360.6 616.7,360.7 624.8,360.7 632.9,360.7 641,361 649.1,360.9 657.2,361.8 662,361.8 662,370 70,370" fill="#fecb95" stroke="#fdb870" stroke-opacity="0.85" stroke-width="1.00"/>
<polygon points="70,357.2 74,357.2 82.1,357.2 90.2,357.2 98.3,357.2 106.4,357.2 114.5,357.2 122.6,357.3 130.7,357.4 138.8,357.5 146.9,357.6 155,357.6 163.1,357.7 171.2,357.7 179.3,357.9 187.4,358 195.5,358.1 203.6,357.9 211.7,357.8 219.8,357.9 227.9,358.2 236,358.2 244.1,358 252.2,358 260.3,358 268.4,358 276.5,357.9 284.6,357.9 292.7,357.8 300.8,357.8 308.9,357.8 317,357.8 325.1,357.8 333.2,357.8 341.3,357.7 349.4,357.6 357.5,357.5 365.6,357.4 373.7,357.3 381.8,357.3 389.9,357.2 398,357.1 406.1,357 414.2,357 422.3,357.1 430.4,357 438.5,357.6 446.6,358.5 454.7,358.4 462.8,357.5 470.9,357.2 479,356.9 487.1,356.8 495.2,356.9 503.3,356.7 511.4,356.7 519.5,356.7 527.6,356.7 535.7,356.7 543.8,356.8 551.9,356.8 560,356.7 568.1,356.7 576.2,358.2 584.3,359.5 592.4,360.7 600.5,360.8 608.6,360.8 616.7,361 624.8,361 632.9,361 641,361.2 649.1,361.1 657.2,361.9 662,361.9 662,370 70,370" fill="#f79b76" stroke="#f47846" stroke-opacity="0.92" stroke-width="1.00"/>
<polygon points="70,358 74,358 82.1,358 90.2,358 98.3,358 106.4,358 114.5,358 122.6,358.1 130.7,358.2 138.8,358.3 146.9,358.4 155,358.4 163.1,358.5 171.2,358.6 179.3,358.7 187.4,358.8 195.5,358.9 203.6,358.8 211.7,358.7 219.8,358.8 227.9,359.1 236,359.1 244.1,358.8 252.2,358.8 260.3,358.8 268.4,358.8 276.5,358.7 284.6,358.7 292.7,358.6 300.8,358.6 308.9,358.6 317,358.5 325.1,358.5 333.2,358.5 341.3,358.4 349.4,358.4 357.5,358.3 365.6,358.2 373.7,358.1 381.8,358.1 389.9,358 398,357.9 406.1,357.8 414.2,357.9 422.3,357.9 430.4,357.8 438.5,358.4 446.6,359.2 454.7,359.1 462.8,358.3 470.9,358 479,357.8 487.1,357.7 495.2,357.7 503.3,357.5 511.4,357.5 519.5,357.5 527.6,357.5 535.7,357.5 543.8,357.5 551.9,357.6 560,357.5 568.1,357.5 576.2,358.8 584.3,359.9 592.4,361 600.5,361.1 608.6,361.1 616.7,361.2 624.8,361.2 632.9,361.2 641,361.4 649.1,361.4 657.2,362.1 662,362.1 662,370 70,370" fill="#dd6877" stroke="#d2364a" stroke-opacity="0.95" stroke-width="0.97"/>
<polygon points="70,358.8 74,358.8 82.1,358.7 90.2,358.8 98.3,358.8 106.4,358.8 114.5,358.8 122.6,358.9 130.7,359 138.8,359 146.9,359.1 155,359.2 163.1,359.3 171.2,359.3 179.3,359.5 187.4,359.6 195.5,359.7 203.6,359.6 211.7,359.5 219.8,359.6 227.9,359.8 236,359.8 244.1,359.6 252.2,359.6 260.3,359.6 268.4,359.5 276.5,359.5 284.6,359.4 292.7,359.4 300.8,359.3 308.9,359.3 317,359.3 325.1,359.3 333.2,359.3 341.3,359.2 349.4,359.1 357.5,359 365.6,359 373.7,358.9 381.8,358.9 389.9,358.8 398,358.7 406.1,358.6 414.2,358.6 422.3,358.7 430.4,358.6 438.5,359.1 446.6,359.9 454.7,359.8 462.8,359.1 470.9,358.8 479,358.5 487.1,358.5 495.2,358.5 503.3,358.3 511.4,358.3 519.5,358.3 527.6,358.3 535.7,358.3 543.8,358.3 551.9,358.3 560,358.3 568.1,358.3 576.2,359.4 584.3,360.4 592.4,361.3 600.5,361.3 608.6,361.3 616.7,361.5 624.8,361.5 632.9,361.5 641,361.6 649.1,361.6 657.2,362.2 662,362.2 662,370 70,370" fill="#e9736e" stroke="#e2443e" stroke-opacity="0.95" stroke-width="0.92"/>
<polygon points="70,359.5 74,359.5 82.1,359.5 90.2,359.5 98.3,359.5 106.4,359.5 114.5,359.5 122.6,359.6 130.7,359.7 138.8,359.8 146.9,359.9 155,359.9 163.1,360 171.2,360.1 179.3,360.2 187.4,360.3 195.5,360.4 203.6,360.3 211.7,360.3 219.8,360.4 227.9,360.6 236,360.6 244.1,360.4 252.2,360.4 260.3,360.3 268.4,360.2 276.5,360.2 284.6,360.2 292.7,360.1 300.8,360.1 308.9,360 317,360 325.1,360 333.2,360 341.3,359.9 349.4,359.8 357.5,359.8 365.6,359.7 373.7,359.6 381.8,359.6 389.9,359.5 398,359.4 406.1,359.4 414.2,359.4 422.3,359.4 430.4,359.3 438.5,359.8 446.6,360.5 454.7,360.4 462.8,359.8 470.9,359.5 479,359.3 487.1,359.2 495.2,359.2 503.3,359 511.4,359 519.5,359 527.6,359 535.7,359 543.8,359 551.9,359 560,359 568.1,359 576.2,360 584.3,360.8 592.4,361.6 600.5,361.6 608.6,361.6 616.7,361.7 624.8,361.7 632.9,361.7 641,361.8 649.1,361.8 657.2,362.4 662,362.4 662,370 70,370" fill="#be4f6c" stroke="#a8143a" stroke-opacity="1" stroke-width="1.07"/>
<polygon points="70,360.4 74,360.4 82.1,360.4 90.2,360.4 98.3,360.4 106.4,360.4 114.5,360.4 122.6,360.5 130.7,360.6 138.8,360.6 146.9,360.7 155,360.8 163.1,360.8 171.2,360.9 179.3,361 187.4,361.1 195.5,361.1 203.6,361.1 211.7,361 219.8,361.1 227.9,361.3 236,361.3 244.1,361.1 252.2,361.1 260.3,361 268.4,361 276.5,361 284.6,360.9 292.7,360.9 300.8,360.9 308.9,360.8 317,360.8 325.1,360.8 333.2,360.8 341.3,360.7 349.4,360.7 357.5,360.6 365.6,360.6 373.7,360.5 381.8,360.5 389.9,360.4 398,360.3 406.1,360.3 414.2,360.3 422.3,360.3 430.4,360.3 438.5,360.6 446.6,361.2 454.7,361.1 462.8,360.6 470.9,360.4 479,360.3 487.1,360.2 495.2,360.2 503.3,360 511.4,360 519.5,360 527.6,360 535.7,360 543.8,360 551.9,360 560,360 568.1,360 576.2,360.8 584.3,361.4 592.4,362.1 600.5,362.1 608.6,362.1 616.7,362.1 624.8,362.2 632.9,362.2 641,362.3 649.1,362.2 657.2,362.7 662,362.7 662,370 70,370" fill="#a0d9b4" stroke="#7ccb98" stroke-opacity="0.82" stroke-width="0.99"/>
<polygon points="70,361.3 74,361.3 82.1,361.2 90.2,361.3 98.3,361.3 106.4,361.3 114.5,361.3 122.6,361.3 130.7,361.4 138.8,361.4 146.9,361.5 155,361.5 163.1,361.6 171.2,361.6 179.3,361.7 187.4,361.7 195.5,361.8 203.6,361.8 211.7,361.7 219.8,361.8 227.9,361.9 236,361.9 244.1,361.8 252.2,361.8 260.3,361.7 268.4,361.7 276.5,361.7 284.6,361.7 292.7,361.6 300.8,361.6 308.9,361.6 317,361.6 325.1,361.6 333.2,361.6 341.3,361.5 349.4,361.5 357.5,361.4 365.6,361.4 373.7,361.3 381.8,361.3 389.9,361.3 398,361.2 406.1,361.2 414.2,361.2 422.3,361.2 430.4,361.1 438.5,361.4 446.6,361.9 454.7,361.8 462.8,361.4 470.9,361.3 479,361.1 487.1,361.1 495.2,361.1 503.3,361 511.4,360.9 519.5,361 527.6,361 535.7,360.9 543.8,361 551.9,361 560,360.9 568.1,360.9 576.2,361.6 584.3,362 592.4,362.5 600.5,362.5 608.6,362.5 616.7,362.6 624.8,362.6 632.9,362.6 641,362.7 649.1,362.6 657.2,363 662,363 662,370 70,370" fill="#bfe5c1" stroke="#a0d8a4" stroke-opacity="0.74" stroke-width="1.03"/>
<polygon points="70,362.1 74,362.1 82.1,362.1 90.2,362.1 98.3,362.1 106.4,362.1 114.5,362.1 122.6,362.2 130.7,362.2 138.8,362.2 146.9,362.3 155,362.3 163.1,362.3 171.2,362.4 179.3,362.4 187.4,362.5 195.5,362.5 203.6,362.5 211.7,362.4 219.8,362.5 227.9,362.6 236,362.6 244.1,362.5 252.2,362.5 260.3,362.5 268.4,362.4 276.5,362.4 284.6,362.4 292.7,362.4 300.8,362.4 308.9,362.4 317,362.3 325.1,362.3 333.2,362.3 341.3,362.3 349.4,362.3 357.5,362.2 365.6,362.2 373.7,362.2 381.8,362.2 389.9,362.1 398,362.1 406.1,362.1 414.2,362.1 422.3,362.1 430.4,362 438.5,362.2 446.6,362.5 454.7,362.5 462.8,362.2 470.9,362.1 479,362 487.1,362 495.2,362 503.3,361.9 511.4,361.9 519.5,361.9 527.6,361.9 535.7,361.9 543.8,361.9 551.9,361.9 560,361.9 568.1,361.9 576.2,362.3 584.3,362.7 592.4,363 600.5,363 608.6,363 616.7,363 624.8,363 632.9,363 641,363.1 649.1,363.1 657.2,363.3 662,363.3 662,370 70,370" fill="#e9f5bd" stroke="#dff0a0" stroke-opacity="0.85" stroke-width="1.05"/>
<polygon points="70,363 74,363 82.1,363 90.2,363 98.3,363 106.4,363 114.5,363 122.6,363 130.7,363.1 138.8,363.1 146.9,363.1 155,363.1 163.1,363.1 171.2,363.1 179.3,363.2 187.4,363.2 195.5,363.2 203.6,363.2 211.7,363.2 219.8,363.2 227.9,363.3 236,363.3 244.1,363.2 252.2,363.2 260.3,363.2 268.4,363.2 276.5,363.2 284.6,363.2 292.7,363.1 300.8,363.1 308.9,363.1 317,363.1 325.1,363.1 333.2,363.1 341.3,363.1 349.4,363.1 357.5,363.1 365.6,363.1 373.7,363 381.8,363 389.9,363 398,363 406.1,363 414.2,363 422.3,363 430.4,363 438.5,363.1 446.6,363.2 454.7,363.2 462.8,363.1 470.9,363 479,363 487.1,362.9 495.2,362.9 503.3,362.9 511.4,362.9 519.5,362.9 527.6,362.9 535.7,362.9 543.8,362.9 551.9,362.9 560,362.9 568.1,362.9 576.2,363.1 584.3,363.3 592.4,363.5 600.5,363.5 608.6,363.5 616.7,363.5 624.8,363.5 632.9,363.5 641,363.5 649.1,363.5 657.2,363.6 662,363.6 662,370 70,370" fill="#fffcdd" stroke="#fffacc" stroke-opacity="0.9" stroke-width="1.17"/>
</g></g>
<g stroke="#000" stroke-opacity="0.02" stroke-width="1.4">
<path d="M82.1 107v257"/>
<path d="M130.7 107v257"/>
<path d="M179.3 107v257"/>
<path d="M227.9 107v257"/>
<path d="M276.5 107v257"/>
<path d="M325.1 107v257"/>
<path d="M373.7 107v257"/>
<path d="M422.3 107v257"/>
<path d="M470.9 107v257"/>
<path d="M519.5 107v257"/>
<path d="M568.1 107v257"/>
<path d="M616.7 107v257"/>
<path d="M74 106.5H657"/>
<path d="M74 150.5H657"/>
<path d="M74 193.5H657"/>
<path d="M74 236.5H657"/>
<path d="M74 278.5H657"/>
<path d="M74 321.5H657"/>
</g>
<path d="M68.5 364.4H662.5" stroke="#dcdfe4" stroke-width="1"/>
<g font-size="7.7" fill="#78828f">
<text x="72.9" y="376.9" textLength="18.6">11:30</text>
<text x="121.5" y="376.9" textLength="18.6">12:00</text>
<text x="170.1" y="376.9" textLength="18.6">12:30</text>
<text x="218.7" y="376.9" textLength="18.6">13:00</text>
<text x="267.3" y="376.9" textLength="18.6">13:30</text>
<text x="315.9" y="376.9" textLength="18.6">14:00</text>
<text x="364.5" y="376.9" textLength="18.6">14:30</text>
<text x="413.1" y="376.9" textLength="18.6">15:00</text>
<text x="461.7" y="376.9" textLength="18.6">15:30</text>
<text x="510.3" y="376.9" textLength="18.6">16:00</text>
<text x="558.9" y="376.9" textLength="18.6">16:30</text>
<text x="607.5" y="376.9" textLength="18.6">17:00</text>
<text x="303.7" y="389.2" textLength="124.8" font-size="7.5">2026-01-08 UTC (5 minute intervals)</text>
<text transform="translate(58.9,245.7) rotate(-90)" textLength="18" font-size="8.2">bits/s</text>
</g>
<text x="314.6" y="82.6" textLength="126.1" font-size="12.1" fill="#111" font-weight="bold">Internet Traffic to Iran</text>
<text x="400" y="131" textLength="76.9" font-size="10.4" fill="#111" font-weight="bold">Brief disruption</text>
<text x="582.1" y="184.7" textLength="49.7" font-size="10.5" fill="#111" font-weight="bold">Near-total</text>
<text x="582.1" y="197.8" textLength="70.1" font-size="10.4" fill="#111" font-weight="bold">disconnection</text>
<g stroke="#f0361a" stroke-width="1.8" fill="none" stroke-dasharray="4.4 2.9"><path d="M449.7 136.2V191"/><path d="M593.5 212.7H648.5"/></g>
<g fill="#f0361a"><path d="M446.2 190.2h7l-3.5 6.9z"/><path d="M587 209.4v6.6l-7-3.3z"/><path d="M647.7 209.4v6.6l7-3.3z"/></g>
</svg>
</body></html>
